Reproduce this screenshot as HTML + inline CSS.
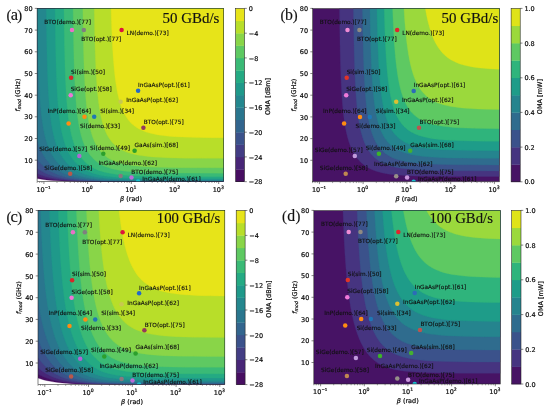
<!DOCTYPE html>
<html lang="en"><head><meta charset="utf-8"><title>OMA contour maps</title>
<style>html,body{margin:0;padding:0;background:#fff}svg{display:block}text{fill:#111;stroke:#111;stroke-width:.22px}text.s{stroke-width:.15px}text.a{stroke-width:.13px}</style></head>
<body>
<svg width="550" height="410" viewBox="0 0 550 410" font-family='"DejaVu Sans","Liberation Sans",sans-serif'>
<rect width="550" height="410" fill="#fff"/>
<clipPath id="c0"><rect x="37.1" y="8.4" width="186.60" height="173.30"/></clipPath>
<g clip-path="url(#c0)" shape-rendering="geometricPrecision">
<path d="M92.76 181.70L223.70 181.70L223.70 8.40L37.10 8.40L37.10 178.57L41.60 179.28L46.62 179.89L52.32 180.41L58.86 180.85L65.42 181.15L73.00 181.40L82.34 181.58L92.76 181.70Z" fill="#470e61" stroke="#470e61" stroke-width="0.3" fill-rule="evenodd"/>
<path d="M108.47 181.70L223.70 181.70L223.70 8.40L37.10 8.40L37.10 176.60L39.55 177.25L42.35 177.89L45.37 178.48L48.64 179.02L52.20 179.52L55.43 179.89L58.93 180.23L62.74 180.53L66.94 180.80L71.58 181.03L81.38 181.36L93.57 181.58L108.47 181.70Z" fill="#482677" stroke="#482677" stroke-width="0.3" fill-rule="evenodd"/>
<path d="M187.93 181.70L223.70 181.70L223.70 8.40L37.10 8.40L37.10 173.42L38.81 174.17L40.60 174.88L42.48 175.55L44.46 176.19L46.56 176.79L48.78 177.36L53.13 178.29L58.04 179.11L63.65 179.82L69.42 180.35L76.21 180.80L82.26 181.07L89.57 181.30L97.31 181.45L107.38 181.56L133.95 181.67L187.93 181.70Z" fill="#433d84" stroke="#433d84" stroke-width="0.3" fill-rule="evenodd"/>
<path d="M161.30 181.56L223.70 181.57L223.70 8.40L37.10 8.40L37.10 168.20L38.73 169.39L40.37 170.47L42.11 171.51L43.94 172.50L45.88 173.43L47.58 174.17L49.75 175.02L51.65 175.68L54.08 176.43L56.24 177.02L58.53 177.57L60.97 178.09L63.59 178.58L66.40 179.02L72.08 179.74L78.03 180.29L84.28 180.70L91.32 181.00L99.65 181.23L109.27 181.38L121.24 181.48L161.30 181.56Z" fill="#3b528b" stroke="#3b528b" stroke-width="0.3" fill-rule="evenodd"/>
<path d="M169.46 181.36L223.70 181.37L223.70 8.40L37.10 8.40L37.10 159.04L38.08 160.39L39.62 162.29L41.06 163.88L42.81 165.62L44.45 167.07L46.45 168.64L48.31 169.94L50.30 171.17L52.42 172.33L54.68 173.43L56.75 174.32L59.33 175.29L61.71 176.06L64.26 176.79L67.02 177.47L70.00 178.09L73.27 178.67L76.27 179.11L78.98 179.45L82.48 179.82L85.72 180.10L93.19 180.56L101.86 180.90L112.25 181.11L125.35 181.25L143.30 181.33L169.46 181.36Z" fill="#32658e" stroke="#32658e" stroke-width="0.3" fill-rule="evenodd"/>
<path d="M162.57 181.03L223.70 181.06L223.70 8.40L37.10 8.40L37.10 139.52L37.91 142.28L38.89 145.20L39.95 148.01L40.98 150.42L42.23 153.02L43.44 155.24L44.73 157.36L46.12 159.40L47.61 161.35L49.00 162.98L50.48 164.54L52.06 166.04L53.73 167.47L55.51 168.83L57.41 170.12L59.43 171.34L61.59 172.50L63.57 173.43L66.04 174.46L68.32 175.29L70.76 176.06L73.41 176.79L76.29 177.47L78.92 177.99L81.60 178.45L84.32 178.85L87.21 179.21L90.57 179.55L97.68 180.08L105.53 180.45L114.51 180.70L126.47 180.87L141.81 180.98L162.57 181.03Z" fill="#2a768e" stroke="#2a768e" stroke-width="0.3" fill-rule="evenodd"/>
<path d="M172.66 180.53L223.70 180.55L223.70 8.40L37.53 8.40L37.77 29.26L38.08 47.57L38.45 63.56L38.89 76.92L39.43 88.98L40.05 99.34L40.80 108.64L41.67 116.96L42.15 120.72L42.69 124.37L43.28 127.91L43.92 131.34L44.63 134.65L45.33 137.50L46.08 140.26L46.89 142.94L47.77 145.52L48.73 148.01L49.76 150.42L50.87 152.74L52.07 154.96L53.19 156.84L54.56 158.90L55.85 160.63L57.22 162.29L58.67 163.88L60.22 165.41L61.87 166.86L63.63 168.25L65.23 169.39L67.22 170.65L69.04 171.68L70.97 172.66L73.04 173.58L75.27 174.46L77.67 175.29L80.29 176.06L82.68 176.67L85.29 177.25L88.19 177.79L90.78 178.19L93.68 178.58L99.86 179.19L106.65 179.65L114.51 179.98L124.23 180.22L135.82 180.38L150.78 180.48L172.66 180.53Z" fill="#24878e" stroke="#24878e" stroke-width="0.3" fill-rule="evenodd"/>
<path d="M195.62 179.74L223.70 179.75L223.70 8.40L46.30 8.40L46.55 29.91L46.87 48.79L47.26 64.71L47.72 78.54L48.28 90.50L48.96 101.24L49.74 110.43L50.20 114.82L50.66 118.64L51.23 122.76L51.79 126.35L52.42 129.83L53.10 133.19L53.86 136.44L54.59 139.24L55.49 142.28L56.36 144.88L57.30 147.40L58.32 149.83L59.42 152.17L60.61 154.41L61.89 156.58L63.09 158.39L64.57 160.39L65.95 162.06L67.42 163.66L68.99 165.19L70.68 166.66L72.21 167.86L74.12 169.20L75.89 170.30L77.78 171.34L79.73 172.30L81.97 173.27L83.99 174.03L86.14 174.74L88.49 175.42L90.95 176.03L93.41 176.55L96.18 177.05L99.18 177.50L102.17 177.87L105.16 178.18L111.45 178.67L118.99 179.05L128.34 179.34L138.81 179.52L152.65 179.64L195.62 179.74Z" fill="#1f998a" stroke="#1f998a" stroke-width="0.3" fill-rule="evenodd"/>
<path d="M213.89 178.48L223.70 178.48L223.70 8.40L55.10 8.40L55.35 29.91L55.68 48.79L56.07 64.71L56.54 78.54L57.10 90.50L57.79 101.24L58.20 106.37L58.62 110.88L59.09 115.25L59.56 119.06L60.13 123.17L60.71 126.74L61.35 130.21L62.05 133.56L62.82 136.80L63.58 139.58L64.50 142.61L65.39 145.20L66.37 147.71L67.42 150.12L68.56 152.45L69.79 154.69L71.12 156.84L72.38 158.65L73.92 160.63L75.38 162.29L76.95 163.88L78.39 165.19L79.93 166.46L81.60 167.68L83.36 168.83L85.28 169.94L87.21 170.92L89.28 171.84L91.36 172.66L93.57 173.40L95.69 174.03L98.05 174.63L100.44 175.15L103.30 175.68L106.28 176.14L109.27 176.52L115.63 177.13L122.36 177.56L130.24 177.89L140.31 178.14L151.53 178.30L166.11 178.40L213.89 178.48Z" fill="#24aa83" stroke="#24aa83" stroke-width="0.3" fill-rule="evenodd"/>
<path d="M192.18 176.43L223.70 176.46L223.70 8.40L64.00 8.40L64.24 28.61L64.54 46.34L64.90 61.83L65.33 75.30L65.84 86.93L66.46 97.41L67.20 106.82L68.01 114.82L68.49 118.64L69.01 122.36L69.60 125.96L70.16 129.07L70.78 132.08L71.46 135.01L72.20 137.85L73.00 140.60L73.88 143.26L74.71 145.52L75.62 147.73L76.72 150.12L77.77 152.17L78.90 154.14L80.13 156.04L81.45 157.88L82.67 159.40L83.98 160.87L85.38 162.29L86.90 163.66L88.33 164.81L90.03 166.04L91.63 167.07L93.37 168.06L95.06 168.91L96.94 169.76L99.18 170.63L101.29 171.34L103.58 172.01L105.91 172.59L108.38 173.12L110.87 173.58L116.00 174.33L118.99 174.66L122.36 174.98L129.09 175.44L137.32 175.82L146.67 176.07L158.26 176.26L172.84 176.37L192.18 176.43Z" fill="#3aba76" stroke="#3aba76" stroke-width="0.3" fill-rule="evenodd"/>
<path d="M183.89 173.12L223.70 173.20L223.70 8.40L73.13 8.40L73.37 27.96L73.67 45.11L74.01 59.51L74.42 72.56L74.90 83.83L75.47 93.99L76.11 102.66L76.89 110.88L77.80 118.22L78.29 121.54L78.82 124.77L79.36 127.64L79.97 130.59L80.67 133.56L81.34 136.09L82.06 138.55L82.85 140.94L83.70 143.26L84.63 145.52L85.64 147.71L86.57 149.53L87.58 151.30L88.70 153.08L89.83 154.67L90.95 156.11L92.26 157.62L93.57 158.97L95.06 160.35L96.56 161.58L98.05 162.67L99.55 163.64L101.09 164.54L102.91 165.49L104.78 166.34L106.65 167.09L108.89 167.86L110.81 168.45L113.01 169.03L115.38 169.57L117.87 170.06L120.30 170.47L125.73 171.20L132.08 171.80L139.19 172.25L147.41 172.60L157.14 172.85L168.73 173.02L183.89 173.12Z" fill="#5ec962" stroke="#5ec962" stroke-width="0.3" fill-rule="evenodd"/>
<path d="M180.33 167.67L197.90 167.77L223.70 167.83L223.70 8.40L82.88 8.40L83.11 25.99L83.40 42.01L83.74 55.99L84.13 68.10L84.60 79.07L85.15 88.98L85.75 97.41L86.48 105.45L87.33 112.64L88.28 119.06L88.86 122.36L89.42 125.17L90.04 127.91L90.61 130.21L91.32 132.80L92.00 135.01L92.73 137.15L93.57 139.34L94.39 141.28L95.32 143.26L96.18 144.91L97.27 146.78L98.26 148.32L99.35 149.83L100.52 151.30L101.79 152.73L102.92 153.86L104.41 155.21L105.78 156.31L107.03 157.22L108.52 158.20L110.16 159.15L111.89 160.04L113.72 160.87L115.50 161.59L117.49 162.29L119.74 162.98L121.61 163.49L123.86 164.02L126.10 164.48L130.96 165.29L136.57 165.97L142.93 166.52L150.03 166.94L158.31 167.27L167.98 167.50L180.33 167.67Z" fill="#89d548" stroke="#89d548" stroke-width="0.3" fill-rule="evenodd"/>
<path d="M185.97 158.14L201.64 158.28L223.70 158.35L223.70 8.40L94.27 8.40L94.54 24.67L94.85 38.88L95.23 51.81L95.64 62.99L96.13 73.11L96.69 82.26L97.33 90.50L98.06 97.90L98.87 104.52L99.85 110.88L100.94 116.53L101.52 119.06L102.14 121.54L102.82 123.97L103.44 125.96L104.25 128.30L104.99 130.21L105.78 132.08L106.65 133.93L107.60 135.73L108.52 137.32L109.65 139.05L110.77 140.60L111.89 141.99L113.01 143.23L114.13 144.37L115.40 145.52L116.75 146.62L118.23 147.71L119.74 148.69L121.24 149.56L122.90 150.42L124.60 151.21L126.23 151.88L127.97 152.52L129.84 153.13L132.08 153.77L136.20 154.74L138.81 155.24L141.06 155.61L146.33 156.31L152.28 156.88L159.01 157.34L166.49 157.69L175.46 157.95L185.97 158.14Z" fill="#b8de29" stroke="#b8de29" stroke-width="0.3" fill-rule="evenodd"/>
<path d="M199.70 137.50L210.61 137.64L223.70 137.73L223.70 8.40L111.09 8.40L111.47 21.35L111.89 32.78L112.37 43.26L112.93 53.01L113.52 61.26L114.21 69.23L114.98 76.38L115.82 82.78L116.75 88.63L117.87 94.38L118.99 99.11L120.28 103.59L121.61 107.45L122.36 109.34L123.22 111.32L124.07 113.08L124.98 114.78L125.75 116.10L126.85 117.83L127.97 119.40L129.02 120.72L130.09 121.95L131.25 123.17L132.46 124.30L133.58 125.27L134.98 126.35L136.20 127.21L137.69 128.16L139.19 129.01L140.79 129.83L142.44 130.59L144.29 131.34L145.92 131.93L147.79 132.53L149.66 133.07L151.56 133.56L153.77 134.06L158.26 134.89L163.12 135.58L168.73 136.17L175.09 136.65L182.19 137.02L190.04 137.29L199.70 137.50Z" fill="#e7e419" stroke="#e7e419" stroke-width="0.3" fill-rule="evenodd"/>
<circle cx="72.0" cy="30.1" r="2.25" fill="#ea70c8"/>
<circle cx="83.8" cy="30.1" r="2.25" fill="#7f7f7f"/>
<circle cx="121.6" cy="30.1" r="2.25" fill="#dc143c"/>
<circle cx="71.1" cy="77.8" r="2.25" fill="#d62728"/>
<circle cx="70.7" cy="95.2" r="2.25" fill="#ee76d8"/>
<circle cx="138.1" cy="90.8" r="2.25" fill="#2369c8"/>
<circle cx="120.6" cy="101.7" r="2.25" fill="#c8c850"/>
<circle cx="84.5" cy="116.8" r="2.25" fill="#ff8c12"/>
<circle cx="94.2" cy="116.8" r="2.25" fill="#1f77b4"/>
<circle cx="68.6" cy="123.4" r="2.25" fill="#ff8c12"/>
<circle cx="143.4" cy="127.7" r="2.25" fill="#943a5c"/>
<circle cx="134.6" cy="150.7" r="2.25" fill="#2ca02c"/>
<circle cx="103.3" cy="153.7" r="2.25" fill="#2ca02c"/>
<circle cx="79.3" cy="155.9" r="2.25" fill="#b066d6"/>
<circle cx="120.6" cy="176.1" r="2.25" fill="#8a767e"/>
<circle cx="70.2" cy="173.7" r="2.25" fill="#b8584a"/>
<circle cx="131.5" cy="177.5" r="2.25" fill="#bb6ad8"/>
<circle cx="138.1" cy="181.6" r="2.25" fill="#17becf"/>
</g>
<text x="91.0" y="24.3" font-size="5.8" text-anchor="end" class="a">BTO(demo.)[77]</text>
<text x="81.3" y="41.3" font-size="5.8" text-anchor="start" class="a">BTO(opt.)[77]</text>
<text x="126.6" y="35.1" font-size="5.8" text-anchor="start" class="a">LN(demo.)[73]</text>
<text x="71.1" y="74.0" font-size="5.8" text-anchor="start" class="a">Si(sim.)[50]</text>
<text x="70.7" y="91.2" font-size="5.8" text-anchor="start" class="a">SiGe(opt.)[58]</text>
<text x="138.1" y="87.0" font-size="5.8" text-anchor="start" class="a">InGaAsP(opt.)[61]</text>
<text x="126.3" y="102.0" font-size="5.8" text-anchor="start" class="a">InGaAsP(opt.)[62]</text>
<text x="91.1" y="112.6" font-size="5.8" text-anchor="end" class="a">InP(demo.)[64]</text>
<text x="100.2" y="112.6" font-size="5.8" text-anchor="start" class="a">Si(sim.)[34]</text>
<text x="80.1" y="127.8" font-size="5.8" text-anchor="start" class="a">Si(demo.)[33]</text>
<text x="143.8" y="123.9" font-size="5.8" text-anchor="start" class="a">BTO(opt.)[75]</text>
<text x="134.6" y="146.5" font-size="5.8" text-anchor="start" class="a">GaAs(sim.)[68]</text>
<text x="90.1" y="149.5" font-size="5.8" text-anchor="start" class="a">Si(demo.)[49]</text>
<text x="87.2" y="151.4" font-size="5.8" text-anchor="end" class="a">SiGe(demo.)[57]</text>
<text x="156.9" y="165.4" font-size="5.8" text-anchor="end" class="a">InGaAsP(demo.)[62]</text>
<text x="92.3" y="169.5" font-size="5.8" text-anchor="end" class="a">SiGe(demo.)[58]</text>
<text x="131.3" y="174.2" font-size="5.8" text-anchor="start" class="a">BTO(demo.)[75]</text>
<text x="142.3" y="181.0" font-size="5.8" text-anchor="start" class="a">InGaAsP(demo.)[61]</text>
<rect x="37.1" y="8.4" width="186.60" height="173.30" fill="none" stroke="#222" stroke-width="0.55"/>
<line x1="34.8" x2="37.1" y1="160.2" y2="160.2" stroke="#222" stroke-width="0.55"/>
<text x="32.6" y="162.8" font-size="6.5" text-anchor="end">10</text>
<line x1="34.8" x2="37.1" y1="138.5" y2="138.5" stroke="#222" stroke-width="0.55"/>
<text x="32.6" y="141.1" font-size="6.5" text-anchor="end">20</text>
<line x1="34.8" x2="37.1" y1="116.8" y2="116.8" stroke="#222" stroke-width="0.55"/>
<text x="32.6" y="119.4" font-size="6.5" text-anchor="end">30</text>
<line x1="34.8" x2="37.1" y1="95.2" y2="95.2" stroke="#222" stroke-width="0.55"/>
<text x="32.6" y="97.8" font-size="6.5" text-anchor="end">40</text>
<line x1="34.8" x2="37.1" y1="73.5" y2="73.5" stroke="#222" stroke-width="0.55"/>
<text x="32.6" y="76.1" font-size="6.5" text-anchor="end">50</text>
<line x1="34.8" x2="37.1" y1="51.8" y2="51.8" stroke="#222" stroke-width="0.55"/>
<text x="32.6" y="54.4" font-size="6.5" text-anchor="end">60</text>
<line x1="34.8" x2="37.1" y1="30.1" y2="30.1" stroke="#222" stroke-width="0.55"/>
<text x="32.6" y="32.7" font-size="6.5" text-anchor="end">70</text>
<line x1="34.8" x2="37.1" y1="8.4" y2="8.4" stroke="#222" stroke-width="0.55"/>
<text x="32.6" y="11.0" font-size="6.5" text-anchor="end">80</text>
<line x1="43.9" x2="43.9" y1="181.7" y2="184.0" stroke="#222" stroke-width="0.55"/>
<text x="43.5" y="191.6" font-size="6.5" text-anchor="middle">10<tspan dy="-2.6" font-size="4.0">−1</tspan></text>
<line x1="87.6" x2="87.6" y1="181.7" y2="184.0" stroke="#222" stroke-width="0.55"/>
<text x="87.2" y="191.6" font-size="6.5" text-anchor="middle">10<tspan dy="-2.6" font-size="4.6">0</tspan></text>
<line x1="131.3" x2="131.3" y1="181.7" y2="184.0" stroke="#222" stroke-width="0.55"/>
<text x="130.9" y="191.6" font-size="6.5" text-anchor="middle">10<tspan dy="-2.6" font-size="4.6">1</tspan></text>
<line x1="175.0" x2="175.0" y1="181.7" y2="184.0" stroke="#222" stroke-width="0.55"/>
<text x="174.6" y="191.6" font-size="6.5" text-anchor="middle">10<tspan dy="-2.6" font-size="4.6">2</tspan></text>
<line x1="218.7" x2="218.7" y1="181.7" y2="184.0" stroke="#222" stroke-width="0.55"/>
<text x="218.3" y="191.6" font-size="6.5" text-anchor="middle">10<tspan dy="-2.6" font-size="4.6">3</tspan></text>
<line x1="37.1" x2="37.1" y1="181.7" y2="183.0" stroke="#222" stroke-width="0.4"/>
<line x1="39.6" x2="39.6" y1="181.7" y2="183.0" stroke="#222" stroke-width="0.4"/>
<line x1="41.9" x2="41.9" y1="181.7" y2="183.0" stroke="#222" stroke-width="0.4"/>
<line x1="57.0" x2="57.0" y1="181.7" y2="183.0" stroke="#222" stroke-width="0.4"/>
<line x1="64.7" x2="64.7" y1="181.7" y2="183.0" stroke="#222" stroke-width="0.4"/>
<line x1="70.2" x2="70.2" y1="181.7" y2="183.0" stroke="#222" stroke-width="0.4"/>
<line x1="74.4" x2="74.4" y1="181.7" y2="183.0" stroke="#222" stroke-width="0.4"/>
<line x1="77.9" x2="77.9" y1="181.7" y2="183.0" stroke="#222" stroke-width="0.4"/>
<line x1="80.8" x2="80.8" y1="181.7" y2="183.0" stroke="#222" stroke-width="0.4"/>
<line x1="83.3" x2="83.3" y1="181.7" y2="183.0" stroke="#222" stroke-width="0.4"/>
<line x1="85.6" x2="85.6" y1="181.7" y2="183.0" stroke="#222" stroke-width="0.4"/>
<line x1="100.7" x2="100.7" y1="181.7" y2="183.0" stroke="#222" stroke-width="0.4"/>
<line x1="108.4" x2="108.4" y1="181.7" y2="183.0" stroke="#222" stroke-width="0.4"/>
<line x1="113.9" x2="113.9" y1="181.7" y2="183.0" stroke="#222" stroke-width="0.4"/>
<line x1="118.1" x2="118.1" y1="181.7" y2="183.0" stroke="#222" stroke-width="0.4"/>
<line x1="121.6" x2="121.6" y1="181.7" y2="183.0" stroke="#222" stroke-width="0.4"/>
<line x1="124.5" x2="124.5" y1="181.7" y2="183.0" stroke="#222" stroke-width="0.4"/>
<line x1="127.1" x2="127.1" y1="181.7" y2="183.0" stroke="#222" stroke-width="0.4"/>
<line x1="129.3" x2="129.3" y1="181.7" y2="183.0" stroke="#222" stroke-width="0.4"/>
<line x1="144.5" x2="144.5" y1="181.7" y2="183.0" stroke="#222" stroke-width="0.4"/>
<line x1="152.2" x2="152.2" y1="181.7" y2="183.0" stroke="#222" stroke-width="0.4"/>
<line x1="157.6" x2="157.6" y1="181.7" y2="183.0" stroke="#222" stroke-width="0.4"/>
<line x1="161.8" x2="161.8" y1="181.7" y2="183.0" stroke="#222" stroke-width="0.4"/>
<line x1="165.3" x2="165.3" y1="181.7" y2="183.0" stroke="#222" stroke-width="0.4"/>
<line x1="168.2" x2="168.2" y1="181.7" y2="183.0" stroke="#222" stroke-width="0.4"/>
<line x1="170.8" x2="170.8" y1="181.7" y2="183.0" stroke="#222" stroke-width="0.4"/>
<line x1="173.0" x2="173.0" y1="181.7" y2="183.0" stroke="#222" stroke-width="0.4"/>
<line x1="188.2" x2="188.2" y1="181.7" y2="183.0" stroke="#222" stroke-width="0.4"/>
<line x1="195.9" x2="195.9" y1="181.7" y2="183.0" stroke="#222" stroke-width="0.4"/>
<line x1="201.3" x2="201.3" y1="181.7" y2="183.0" stroke="#222" stroke-width="0.4"/>
<line x1="205.6" x2="205.6" y1="181.7" y2="183.0" stroke="#222" stroke-width="0.4"/>
<line x1="209.0" x2="209.0" y1="181.7" y2="183.0" stroke="#222" stroke-width="0.4"/>
<line x1="211.9" x2="211.9" y1="181.7" y2="183.0" stroke="#222" stroke-width="0.4"/>
<line x1="214.5" x2="214.5" y1="181.7" y2="183.0" stroke="#222" stroke-width="0.4"/>
<line x1="216.7" x2="216.7" y1="181.7" y2="183.0" stroke="#222" stroke-width="0.4"/>
<text x="131.0" y="200.6" font-size="6.5" text-anchor="middle"><tspan font-style="italic">β</tspan> (rad)</text>
<text transform="translate(20.1,95.0) rotate(-90)" font-size="6.5" text-anchor="middle"><tspan font-style="italic">f</tspan><tspan font-style="italic" font-size="4.6" dy="1.3">mod</tspan><tspan dy="-1.3"> (GHz)</tspan></text>
<rect x="235.6" y="169.32" width="8.90" height="12.68" fill="#470e61"/>
<rect x="235.6" y="156.94" width="8.90" height="12.68" fill="#482677"/>
<rect x="235.6" y="144.56" width="8.90" height="12.68" fill="#433d84"/>
<rect x="235.6" y="132.19" width="8.90" height="12.68" fill="#3b528b"/>
<rect x="235.6" y="119.81" width="8.90" height="12.68" fill="#32658e"/>
<rect x="235.6" y="107.43" width="8.90" height="12.68" fill="#2a768e"/>
<rect x="235.6" y="95.05" width="8.90" height="12.68" fill="#24878e"/>
<rect x="235.6" y="82.67" width="8.90" height="12.68" fill="#1f998a"/>
<rect x="235.6" y="70.29" width="8.90" height="12.68" fill="#24aa83"/>
<rect x="235.6" y="57.91" width="8.90" height="12.68" fill="#3aba76"/>
<rect x="235.6" y="45.54" width="8.90" height="12.68" fill="#5ec962"/>
<rect x="235.6" y="33.16" width="8.90" height="12.68" fill="#89d548"/>
<rect x="235.6" y="20.78" width="8.90" height="12.68" fill="#b8de29"/>
<rect x="235.6" y="8.40" width="8.90" height="12.68" fill="#e7e419"/>
<rect x="235.6" y="8.4" width="8.90" height="173.30" fill="none" stroke="#222" stroke-width="0.55"/>
<line x1="244.5" x2="246.8" y1="181.7" y2="181.7" stroke="#222" stroke-width="0.55"/>
<text x="248.7" y="184.3" font-size="6.5">−28</text>
<line x1="244.5" x2="246.8" y1="156.9" y2="156.9" stroke="#222" stroke-width="0.55"/>
<text x="248.7" y="159.5" font-size="6.5">−24</text>
<line x1="244.5" x2="246.8" y1="132.2" y2="132.2" stroke="#222" stroke-width="0.55"/>
<text x="248.7" y="134.8" font-size="6.5">−20</text>
<line x1="244.5" x2="246.8" y1="107.4" y2="107.4" stroke="#222" stroke-width="0.55"/>
<text x="248.7" y="110.0" font-size="6.5">−16</text>
<line x1="244.5" x2="246.8" y1="82.7" y2="82.7" stroke="#222" stroke-width="0.55"/>
<text x="248.7" y="85.3" font-size="6.5">−12</text>
<line x1="244.5" x2="246.8" y1="57.9" y2="57.9" stroke="#222" stroke-width="0.55"/>
<text x="248.7" y="60.5" font-size="6.5">−8</text>
<line x1="244.5" x2="246.8" y1="33.2" y2="33.2" stroke="#222" stroke-width="0.55"/>
<text x="248.7" y="35.8" font-size="6.5">−4</text>
<line x1="244.5" x2="246.8" y1="8.4" y2="8.4" stroke="#222" stroke-width="0.55"/>
<text x="248.7" y="11.0" font-size="6.5">0</text>
<text transform="translate(269.9,96.5) rotate(-90)" font-size="6.5" text-anchor="middle">OMA [dBm]</text>
<text x="6.5" y="19.9" font-size="14.7" letter-spacing="-0.7" font-family='"Liberation Serif","DejaVu Serif",serif' class="s">(<tspan font-size="16.5">a</tspan>)</text>
<text x="162.6" y="22.5" font-size="14.5" textLength="56.8" lengthAdjust="spacingAndGlyphs" font-family='"Liberation Serif","DejaVu Serif",serif' class="s">50 GBd/s</text>
<clipPath id="c1"><rect x="312.6" y="8.4" width="186.80" height="173.40"/></clipPath>
<g clip-path="url(#c1)" shape-rendering="geometricPrecision">
<path d="M312.60 181.80L499.40 181.80L499.40 8.40L312.60 8.40L312.60 181.80Z" fill="#471365" stroke="#471365" stroke-width="0.3" fill-rule="evenodd"/>
<path d="M467.85 176.53L499.40 176.56L499.40 8.40L339.53 8.40L339.78 29.28L340.08 46.98L340.44 62.44L340.86 75.34L341.37 86.98L341.99 97.47L342.73 106.88L343.55 114.88L344.02 118.71L344.55 122.42L345.06 125.63L345.70 129.14L346.40 132.53L347.09 135.45L347.83 138.28L348.65 141.02L349.53 143.67L350.38 145.92L351.42 148.40L352.41 150.50L353.47 152.53L354.62 154.50L355.86 156.40L357.00 157.97L358.22 159.49L359.53 160.96L360.94 162.38L362.46 163.75L364.10 165.07L365.59 166.13L367.25 167.20L369.13 168.25L371.00 169.18L372.87 170.00L374.80 170.74L376.99 171.48L379.15 172.10L381.48 172.69L384.10 173.25L386.72 173.72L389.34 174.13L392.34 174.51L398.33 175.10L405.06 175.56L413.30 175.92L422.66 176.18L434.26 176.36L448.49 176.47L467.85 176.53Z" fill="#463480" stroke="#463480" stroke-width="0.3" fill-rule="evenodd"/>
<path d="M489.75 170.92L499.40 170.93L499.40 8.40L353.48 8.40L353.73 27.97L354.05 45.75L354.43 60.71L354.89 74.24L355.44 85.95L356.07 96.00L356.81 105.04L357.69 113.14L358.20 117.02L358.77 120.79L359.33 124.04L359.94 127.20L360.62 130.28L361.36 133.26L362.08 135.80L362.86 138.28L363.70 140.68L364.63 143.01L365.65 145.28L366.59 147.17L367.62 149.01L368.75 150.82L369.95 152.53L371.28 154.22L372.49 155.59L373.80 156.92L375.23 158.22L376.80 159.49L378.49 160.68L380.06 161.67L381.74 162.61L383.60 163.52L385.60 164.38L387.47 165.09L389.72 165.82L391.96 166.46L394.21 167.01L396.81 167.56L399.45 168.03L402.07 168.43L407.68 169.11L414.42 169.68L421.91 170.10L430.52 170.41L440.63 170.63L452.98 170.78L468.33 170.87L489.75 170.92Z" fill="#3b528b" stroke="#3b528b" stroke-width="0.3" fill-rule="evenodd"/>
<path d="M470.91 164.85L499.40 164.93L499.40 8.40L362.53 8.40L362.79 26.66L363.09 42.03L363.45 56.02L363.88 68.14L364.38 79.11L364.94 88.52L365.59 96.98L366.38 105.04L367.29 112.26L367.82 115.74L368.33 118.71L368.89 121.61L369.50 124.44L370.17 127.20L370.80 129.52L371.60 132.16L372.35 134.36L373.16 136.52L373.99 138.48L374.86 140.34L375.86 142.26L376.88 143.99L377.93 145.60L378.86 146.90L380.06 148.40L381.41 149.91L382.60 151.11L383.87 152.25L385.28 153.38L386.84 154.50L388.56 155.59L390.09 156.45L391.96 157.38L393.83 158.20L395.71 158.91L397.58 159.55L399.82 160.22L402.07 160.79L404.32 161.29L406.56 161.73L409.18 162.17L411.80 162.55L414.80 162.92L420.79 163.49L427.90 163.96L436.14 164.31L445.49 164.56L456.72 164.74L470.91 164.85Z" fill="#2f6c8e" stroke="#2f6c8e" stroke-width="0.3" fill-rule="evenodd"/>
<path d="M476.36 158.22L499.40 158.30L499.40 8.40L369.96 8.40L370.25 25.34L370.58 40.16L370.97 53.04L371.42 64.74L371.96 75.34L372.55 84.39L373.24 92.77L374.05 100.35L374.92 106.88L375.43 110.04L375.98 113.14L376.58 116.17L377.15 118.71L377.77 121.20L378.49 123.75L379.19 126.03L380.01 128.37L380.90 130.66L381.72 132.53L382.61 134.36L383.58 136.16L384.47 137.65L385.60 139.34L386.72 140.85L387.84 142.20L389.20 143.67L390.46 144.88L391.65 145.92L393.08 147.03L394.58 148.07L396.09 149.01L397.71 149.91L399.45 150.76L401.32 151.57L403.19 152.28L405.06 152.92L407.31 153.58L409.56 154.16L411.80 154.66L414.05 155.10L416.67 155.54L421.91 156.24L427.90 156.83L435.01 157.31L442.87 157.66L451.86 157.92L462.71 158.10L476.36 158.22Z" fill="#25848e" stroke="#25848e" stroke-width="0.3" fill-rule="evenodd"/>
<path d="M474.18 150.50L499.40 150.64L499.40 8.40L376.96 8.40L377.26 23.35L377.63 37.00L378.06 49.42L378.53 60.13L379.08 69.82L379.71 78.58L380.43 86.47L381.23 93.54L382.20 100.35L383.19 105.96L383.75 108.70L384.37 111.38L385.60 115.95L386.33 118.29L387.06 120.37L387.84 122.41L388.59 124.17L389.47 126.03L390.46 127.93L391.39 129.52L392.37 131.03L393.46 132.56L394.58 133.97L395.71 135.24L396.96 136.52L398.11 137.58L399.45 138.69L400.95 139.80L402.44 140.79L403.96 141.69L405.81 142.66L407.31 143.36L409.18 144.14L411.05 144.82L412.93 145.43L414.80 145.97L417.04 146.54L419.29 147.03L421.54 147.47L426.40 148.23L432.02 148.88L438.38 149.41L445.49 149.82L453.36 150.12L462.71 150.34L474.18 150.50Z" fill="#1e9c89" stroke="#1e9c89" stroke-width="0.3" fill-rule="evenodd"/>
<path d="M473.09 141.02L484.80 141.16L499.40 141.25L499.40 8.40L384.24 8.40L384.60 22.02L385.00 33.80L385.45 44.52L385.97 54.35L386.59 63.59L387.24 71.49L387.96 78.58L388.81 85.43L389.75 91.55L390.84 97.35L391.97 102.24L392.59 104.58L393.26 106.88L393.85 108.70L394.64 110.94L395.33 112.70L396.27 114.88L397.09 116.59L397.95 118.22L398.97 119.96L399.82 121.29L400.91 122.83L401.85 124.04L402.88 125.24L403.98 126.42L405.20 127.59L406.53 128.75L407.68 129.66L409.18 130.73L410.68 131.68L412.16 132.53L413.67 133.30L415.18 134.00L417.04 134.77L418.91 135.45L420.79 136.05L422.66 136.59L426.78 137.58L431.27 138.41L436.51 139.14L442.12 139.72L448.49 140.18L455.60 140.54L463.46 140.81L473.09 141.02Z" fill="#2fb47c" stroke="#2fb47c" stroke-width="0.3" fill-rule="evenodd"/>
<path d="M474.57 128.37L485.55 128.57L499.40 128.71L499.40 8.40L392.66 8.40L393.07 19.34L393.52 29.28L394.06 38.90L394.65 47.59L395.33 55.81L396.06 63.02L396.83 69.32L397.71 75.34L398.70 80.99L399.82 86.28L400.95 90.70L402.26 95.02L403.57 98.66L404.32 100.48L405.10 102.24L406.03 104.11L406.94 105.78L407.87 107.34L408.76 108.70L409.72 110.04L410.76 111.38L411.80 112.59L412.93 113.78L414.05 114.86L415.17 115.85L416.63 117.02L417.79 117.86L419.08 118.71L420.48 119.54L421.91 120.32L423.41 121.05L424.90 121.72L426.78 122.46L428.65 123.11L430.31 123.64L432.39 124.22L434.26 124.68L438.38 125.54L442.87 126.26L447.74 126.86L453.36 127.38L459.34 127.78L466.46 128.11L474.57 128.37Z" fill="#5ec962" stroke="#5ec962" stroke-width="0.3" fill-rule="evenodd"/>
<path d="M484.73 109.15L499.40 109.43L499.40 8.40L403.96 8.40L404.47 16.64L405.06 24.74L405.74 32.52L406.47 39.53L407.31 46.37L408.10 51.84L409.00 57.20L410.04 62.44L411.10 67.01L412.33 71.49L413.67 75.65L415.17 79.57L416.67 82.88L418.29 85.95L420.04 88.75L420.95 90.04L421.91 91.30L423.85 93.54L424.90 94.62L426.03 95.68L427.15 96.65L428.27 97.54L429.50 98.43L430.96 99.39L433.51 100.86L435.01 101.61L436.51 102.29L438.01 102.91L439.88 103.61L443.25 104.67L446.99 105.62L450.98 106.42L455.23 107.10L460.09 107.70L465.33 108.19L470.95 108.57L477.31 108.89L484.73 109.15Z" fill="#9bd93c" stroke="#9bd93c" stroke-width="0.3" fill-rule="evenodd"/>
<path d="M499.04 69.26L499.40 69.28L499.40 8.40L425.35 8.40L426.21 13.23L427.15 17.88L428.10 22.02L429.02 25.62L430.08 29.28L431.13 32.52L432.30 35.72L433.51 38.69L434.77 41.41L436.14 44.02L437.63 46.55L439.13 48.79L440.63 50.77L442.50 52.94L444.37 54.83L446.24 56.48L448.11 57.93L450.36 59.44L452.61 60.75L454.85 61.87L457.47 63.01L460.09 63.97L462.71 64.79L465.71 65.59L469.08 66.33L472.45 66.95L476.19 67.51L479.93 67.96L484.05 68.37L488.54 68.71L493.41 69.01L499.04 69.26Z" fill="#dfe318" stroke="#dfe318" stroke-width="0.3" fill-rule="evenodd"/>
<circle cx="347.5" cy="30.1" r="2.25" fill="#f08cd6"/>
<circle cx="359.4" cy="30.1" r="2.25" fill="#908a82"/>
<circle cx="397.2" cy="30.1" r="2.25" fill="#e0242e"/>
<circle cx="346.7" cy="77.8" r="2.25" fill="#e03428"/>
<circle cx="346.2" cy="95.2" r="2.25" fill="#f07ada"/>
<circle cx="413.7" cy="90.9" r="2.25" fill="#2c6cb8"/>
<circle cx="396.2" cy="101.7" r="2.25" fill="#dcc032"/>
<circle cx="360.0" cy="116.9" r="2.25" fill="#ff8c12"/>
<circle cx="369.8" cy="116.9" r="2.25" fill="#1f77b4"/>
<circle cx="344.1" cy="123.4" r="2.25" fill="#ff8c12"/>
<circle cx="419.0" cy="127.8" r="2.25" fill="#bc5450"/>
<circle cx="410.2" cy="150.8" r="2.25" fill="#44b030"/>
<circle cx="378.9" cy="153.8" r="2.25" fill="#3cb428"/>
<circle cx="354.8" cy="156.0" r="2.25" fill="#c09adc"/>
<circle cx="396.2" cy="176.2" r="2.25" fill="#969088"/>
<circle cx="345.7" cy="173.8" r="2.25" fill="#c08850"/>
<circle cx="407.1" cy="177.6" r="2.25" fill="#c896dc"/>
<circle cx="413.7" cy="181.7" r="2.25" fill="#17becf"/>
</g>
<text x="366.5" y="24.3" font-size="5.8" text-anchor="end" class="a">BTO(demo.)[77]</text>
<text x="356.9" y="41.3" font-size="5.8" text-anchor="start" class="a">BTO(opt.)[77]</text>
<text x="402.2" y="35.1" font-size="5.8" text-anchor="start" class="a">LN(demo.)[73]</text>
<text x="346.7" y="74.0" font-size="5.8" text-anchor="start" class="a">Si(sim.)[50]</text>
<text x="346.2" y="91.2" font-size="5.8" text-anchor="start" class="a">SiGe(opt.)[58]</text>
<text x="413.7" y="87.1" font-size="5.8" text-anchor="start" class="a">InGaAsP(opt.)[61]</text>
<text x="401.9" y="102.0" font-size="5.8" text-anchor="start" class="a">InGaAsP(opt.)[62]</text>
<text x="366.6" y="112.7" font-size="5.8" text-anchor="end" class="a">InP(demo.)[64]</text>
<text x="375.8" y="112.7" font-size="5.8" text-anchor="start" class="a">Si(sim.)[34]</text>
<text x="355.6" y="127.8" font-size="5.8" text-anchor="start" class="a">Si(demo.)[33]</text>
<text x="419.4" y="124.0" font-size="5.8" text-anchor="start" class="a">BTO(opt.)[75]</text>
<text x="410.2" y="146.6" font-size="5.8" text-anchor="start" class="a">GaAs(sim.)[68]</text>
<text x="365.7" y="149.6" font-size="5.8" text-anchor="start" class="a">Si(demo.)[49]</text>
<text x="362.7" y="151.5" font-size="5.8" text-anchor="end" class="a">SiGe(demo.)[57]</text>
<text x="432.5" y="165.5" font-size="5.8" text-anchor="end" class="a">InGaAsP(demo.)[62]</text>
<text x="367.8" y="169.6" font-size="5.8" text-anchor="end" class="a">SiGe(demo.)[58]</text>
<text x="406.9" y="174.3" font-size="5.8" text-anchor="start" class="a">BTO(demo.)[75]</text>
<text x="417.9" y="181.1" font-size="5.8" text-anchor="start" class="a">InGaAsP(demo.)[61]</text>
<rect x="312.6" y="8.4" width="186.80" height="173.40" fill="none" stroke="#222" stroke-width="0.55"/>
<line x1="310.3" x2="312.6" y1="160.3" y2="160.3" stroke="#222" stroke-width="0.55"/>
<text x="308.1" y="162.9" font-size="6.5" text-anchor="end">10</text>
<line x1="310.3" x2="312.6" y1="138.6" y2="138.6" stroke="#222" stroke-width="0.55"/>
<text x="308.1" y="141.2" font-size="6.5" text-anchor="end">20</text>
<line x1="310.3" x2="312.6" y1="116.9" y2="116.9" stroke="#222" stroke-width="0.55"/>
<text x="308.1" y="119.5" font-size="6.5" text-anchor="end">30</text>
<line x1="310.3" x2="312.6" y1="95.2" y2="95.2" stroke="#222" stroke-width="0.55"/>
<text x="308.1" y="97.8" font-size="6.5" text-anchor="end">40</text>
<line x1="310.3" x2="312.6" y1="73.5" y2="73.5" stroke="#222" stroke-width="0.55"/>
<text x="308.1" y="76.1" font-size="6.5" text-anchor="end">50</text>
<line x1="310.3" x2="312.6" y1="51.8" y2="51.8" stroke="#222" stroke-width="0.55"/>
<text x="308.1" y="54.4" font-size="6.5" text-anchor="end">60</text>
<line x1="310.3" x2="312.6" y1="30.1" y2="30.1" stroke="#222" stroke-width="0.55"/>
<text x="308.1" y="32.7" font-size="6.5" text-anchor="end">70</text>
<line x1="310.3" x2="312.6" y1="8.4" y2="8.4" stroke="#222" stroke-width="0.55"/>
<text x="308.1" y="11.0" font-size="6.5" text-anchor="end">80</text>
<line x1="319.4" x2="319.4" y1="181.8" y2="184.1" stroke="#222" stroke-width="0.55"/>
<text x="319.0" y="191.7" font-size="6.5" text-anchor="middle">10<tspan dy="-2.6" font-size="4.0">−1</tspan></text>
<line x1="363.1" x2="363.1" y1="181.8" y2="184.1" stroke="#222" stroke-width="0.55"/>
<text x="362.7" y="191.7" font-size="6.5" text-anchor="middle">10<tspan dy="-2.6" font-size="4.6">0</tspan></text>
<line x1="406.9" x2="406.9" y1="181.8" y2="184.1" stroke="#222" stroke-width="0.55"/>
<text x="406.5" y="191.7" font-size="6.5" text-anchor="middle">10<tspan dy="-2.6" font-size="4.6">1</tspan></text>
<line x1="450.7" x2="450.7" y1="181.8" y2="184.1" stroke="#222" stroke-width="0.55"/>
<text x="450.3" y="191.7" font-size="6.5" text-anchor="middle">10<tspan dy="-2.6" font-size="4.6">2</tspan></text>
<line x1="494.4" x2="494.4" y1="181.8" y2="184.1" stroke="#222" stroke-width="0.55"/>
<text x="494.0" y="191.7" font-size="6.5" text-anchor="middle">10<tspan dy="-2.6" font-size="4.6">3</tspan></text>
<line x1="312.6" x2="312.6" y1="181.8" y2="183.1" stroke="#222" stroke-width="0.4"/>
<line x1="315.1" x2="315.1" y1="181.8" y2="183.1" stroke="#222" stroke-width="0.4"/>
<line x1="317.4" x2="317.4" y1="181.8" y2="183.1" stroke="#222" stroke-width="0.4"/>
<line x1="332.6" x2="332.6" y1="181.8" y2="183.1" stroke="#222" stroke-width="0.4"/>
<line x1="340.3" x2="340.3" y1="181.8" y2="183.1" stroke="#222" stroke-width="0.4"/>
<line x1="345.7" x2="345.7" y1="181.8" y2="183.1" stroke="#222" stroke-width="0.4"/>
<line x1="350.0" x2="350.0" y1="181.8" y2="183.1" stroke="#222" stroke-width="0.4"/>
<line x1="353.4" x2="353.4" y1="181.8" y2="183.1" stroke="#222" stroke-width="0.4"/>
<line x1="356.4" x2="356.4" y1="181.8" y2="183.1" stroke="#222" stroke-width="0.4"/>
<line x1="358.9" x2="358.9" y1="181.8" y2="183.1" stroke="#222" stroke-width="0.4"/>
<line x1="361.1" x2="361.1" y1="181.8" y2="183.1" stroke="#222" stroke-width="0.4"/>
<line x1="376.3" x2="376.3" y1="181.8" y2="183.1" stroke="#222" stroke-width="0.4"/>
<line x1="384.0" x2="384.0" y1="181.8" y2="183.1" stroke="#222" stroke-width="0.4"/>
<line x1="389.5" x2="389.5" y1="181.8" y2="183.1" stroke="#222" stroke-width="0.4"/>
<line x1="393.7" x2="393.7" y1="181.8" y2="183.1" stroke="#222" stroke-width="0.4"/>
<line x1="397.2" x2="397.2" y1="181.8" y2="183.1" stroke="#222" stroke-width="0.4"/>
<line x1="400.1" x2="400.1" y1="181.8" y2="183.1" stroke="#222" stroke-width="0.4"/>
<line x1="402.7" x2="402.7" y1="181.8" y2="183.1" stroke="#222" stroke-width="0.4"/>
<line x1="404.9" x2="404.9" y1="181.8" y2="183.1" stroke="#222" stroke-width="0.4"/>
<line x1="420.1" x2="420.1" y1="181.8" y2="183.1" stroke="#222" stroke-width="0.4"/>
<line x1="427.8" x2="427.8" y1="181.8" y2="183.1" stroke="#222" stroke-width="0.4"/>
<line x1="433.2" x2="433.2" y1="181.8" y2="183.1" stroke="#222" stroke-width="0.4"/>
<line x1="437.5" x2="437.5" y1="181.8" y2="183.1" stroke="#222" stroke-width="0.4"/>
<line x1="440.9" x2="440.9" y1="181.8" y2="183.1" stroke="#222" stroke-width="0.4"/>
<line x1="443.9" x2="443.9" y1="181.8" y2="183.1" stroke="#222" stroke-width="0.4"/>
<line x1="446.4" x2="446.4" y1="181.8" y2="183.1" stroke="#222" stroke-width="0.4"/>
<line x1="448.7" x2="448.7" y1="181.8" y2="183.1" stroke="#222" stroke-width="0.4"/>
<line x1="463.8" x2="463.8" y1="181.8" y2="183.1" stroke="#222" stroke-width="0.4"/>
<line x1="471.5" x2="471.5" y1="181.8" y2="183.1" stroke="#222" stroke-width="0.4"/>
<line x1="477.0" x2="477.0" y1="181.8" y2="183.1" stroke="#222" stroke-width="0.4"/>
<line x1="481.2" x2="481.2" y1="181.8" y2="183.1" stroke="#222" stroke-width="0.4"/>
<line x1="484.7" x2="484.7" y1="181.8" y2="183.1" stroke="#222" stroke-width="0.4"/>
<line x1="487.6" x2="487.6" y1="181.8" y2="183.1" stroke="#222" stroke-width="0.4"/>
<line x1="490.2" x2="490.2" y1="181.8" y2="183.1" stroke="#222" stroke-width="0.4"/>
<line x1="492.4" x2="492.4" y1="181.8" y2="183.1" stroke="#222" stroke-width="0.4"/>
<text x="406.6" y="200.7" font-size="6.5" text-anchor="middle"><tspan font-style="italic">β</tspan> (rad)</text>
<text transform="translate(295.6,95.1) rotate(-90)" font-size="6.5" text-anchor="middle"><tspan font-style="italic">f</tspan><tspan font-style="italic" font-size="4.6" dy="1.3">mod</tspan><tspan dy="-1.3"> (GHz)</tspan></text>
<rect x="511.1" y="164.46" width="9.10" height="17.64" fill="#471365"/>
<rect x="511.1" y="147.12" width="9.10" height="17.64" fill="#463480"/>
<rect x="511.1" y="129.78" width="9.10" height="17.64" fill="#3b528b"/>
<rect x="511.1" y="112.44" width="9.10" height="17.64" fill="#2f6c8e"/>
<rect x="511.1" y="95.10" width="9.10" height="17.64" fill="#25848e"/>
<rect x="511.1" y="77.76" width="9.10" height="17.64" fill="#1e9c89"/>
<rect x="511.1" y="60.42" width="9.10" height="17.64" fill="#2fb47c"/>
<rect x="511.1" y="43.08" width="9.10" height="17.64" fill="#5ec962"/>
<rect x="511.1" y="25.74" width="9.10" height="17.64" fill="#9bd93c"/>
<rect x="511.1" y="8.40" width="9.10" height="17.64" fill="#dfe318"/>
<rect x="511.1" y="8.4" width="9.10" height="173.40" fill="none" stroke="#222" stroke-width="0.55"/>
<line x1="520.2" x2="522.5" y1="181.8" y2="181.8" stroke="#222" stroke-width="0.55"/>
<text x="524.4" y="184.4" font-size="6.5">0.0</text>
<line x1="520.2" x2="522.5" y1="147.1" y2="147.1" stroke="#222" stroke-width="0.55"/>
<text x="524.4" y="149.7" font-size="6.5">0.2</text>
<line x1="520.2" x2="522.5" y1="112.4" y2="112.4" stroke="#222" stroke-width="0.55"/>
<text x="524.4" y="115.0" font-size="6.5">0.4</text>
<line x1="520.2" x2="522.5" y1="77.8" y2="77.8" stroke="#222" stroke-width="0.55"/>
<text x="524.4" y="80.4" font-size="6.5">0.6</text>
<line x1="520.2" x2="522.5" y1="43.1" y2="43.1" stroke="#222" stroke-width="0.55"/>
<text x="524.4" y="45.7" font-size="6.5">0.8</text>
<line x1="520.2" x2="522.5" y1="8.4" y2="8.4" stroke="#222" stroke-width="0.55"/>
<text x="524.4" y="11.0" font-size="6.5">1.0</text>
<text transform="translate(541.8,96.6) rotate(-90)" font-size="6.5" text-anchor="middle">OMA [mW]</text>
<text x="280.5" y="19.75" font-size="14.7" letter-spacing="-0.3" font-family='"Liberation Serif","DejaVu Serif",serif' class="s">(<tspan font-size="15.8">b</tspan>)</text>
<text x="441.5" y="22.5" font-size="14.5" textLength="56.8" lengthAdjust="spacingAndGlyphs" font-family='"Liberation Serif","DejaVu Serif",serif' class="s">50 GBd/s</text>
<clipPath id="c2"><rect x="38.0" y="210.5" width="186.80" height="174.10"/></clipPath>
<g clip-path="url(#c2)" shape-rendering="geometricPrecision">
<path d="M123.60 384.60L224.80 384.60L224.80 210.50L38.00 210.50L38.00 378.09L40.95 379.06L43.93 379.90L47.17 380.67L50.69 381.37L54.56 382.00L58.20 382.48L62.20 382.92L66.63 383.31L71.61 383.64L76.27 383.88L81.55 384.09L87.79 384.27L102.39 384.49L123.60 384.60Z" fill="#470e61" stroke="#470e61" stroke-width="0.3" fill-rule="evenodd"/>
<path d="M206.56 384.54L224.80 384.54L224.80 210.50L38.00 210.50L38.00 374.13L39.97 375.19L41.74 376.05L43.65 376.89L45.82 377.75L48.12 378.55L50.15 379.19L52.73 379.90L55.02 380.45L57.46 380.98L60.07 381.46L62.86 381.91L65.87 382.33L71.97 382.99L79.18 383.53L85.54 383.85L93.03 384.11L102.01 384.29L112.12 384.40L140.95 384.52L206.56 384.54Z" fill="#482677" stroke="#482677" stroke-width="0.3" fill-rule="evenodd"/>
<path d="M167.61 384.37L224.80 384.38L224.80 210.50L38.00 210.50L38.00 367.76L39.75 369.28L41.53 370.70L43.41 372.05L45.11 373.14L47.19 374.36L49.07 375.35L51.06 376.29L53.16 377.18L55.38 378.02L57.74 378.81L60.26 379.55L62.97 380.24L65.89 380.87L68.51 381.37L71.33 381.82L74.41 382.25L79.98 382.85L86.74 383.37L94.32 383.74L103.14 384.01L112.87 384.17L125.97 384.28L167.61 384.37Z" fill="#433d84" stroke="#433d84" stroke-width="0.3" fill-rule="evenodd"/>
<path d="M199.68 384.13L224.80 384.13L224.80 210.50L38.00 210.50L38.00 357.26L39.42 359.36L40.97 361.44L42.60 363.43L44.09 365.10L45.89 366.92L47.79 368.66L49.80 370.30L51.66 371.67L53.62 372.96L55.70 374.19L57.90 375.35L60.25 376.44L62.76 377.47L65.06 378.29L67.95 379.19L70.62 379.90L73.52 380.56L76.18 381.08L79.60 381.65L82.81 382.08L85.92 382.43L89.29 382.75L96.60 383.25L104.80 383.59L114.74 383.83L126.02 383.97L142.07 384.06L199.68 384.13Z" fill="#3b528b" stroke="#3b528b" stroke-width="0.3" fill-rule="evenodd"/>
<path d="M162.90 383.69L224.80 383.73L224.80 210.50L38.00 210.50L38.00 338.86L39.13 341.94L40.22 344.66L41.51 347.61L42.72 350.14L44.16 352.88L45.50 355.22L46.91 357.46L48.39 359.62L49.95 361.69L51.60 363.67L53.33 365.56L54.93 367.15L56.85 368.87L58.63 370.30L60.51 371.67L62.49 372.96L64.60 374.19L66.84 375.35L68.89 376.29L71.32 377.28L73.80 378.16L76.34 378.94L79.10 379.67L81.61 380.24L84.35 380.77L87.04 381.22L90.10 381.65L93.03 381.99L99.63 382.56L107.28 382.99L116.61 383.30L127.84 383.50L142.82 383.63L162.90 383.69Z" fill="#32658e" stroke="#32658e" stroke-width="0.3" fill-rule="evenodd"/>
<path d="M171.07 383.06L224.80 383.09L224.80 210.50L38.00 210.50L38.00 299.63L38.82 305.19L39.66 310.29L40.56 315.22L41.54 319.98L42.60 324.57L43.62 328.60L44.83 332.87L46.00 336.60L47.26 340.20L48.59 343.65L50.00 346.97L51.51 350.14L53.12 353.18L54.65 355.79L56.46 358.56L58.19 360.93L59.81 362.94L61.31 364.63L62.88 366.25L64.54 367.80L66.28 369.28L68.12 370.70L70.08 372.05L72.07 373.27L74.05 374.36L76.07 375.35L78.23 376.29L80.56 377.18L82.92 377.97L85.38 378.68L87.89 379.31L90.66 379.90L93.14 380.35L95.90 380.77L99.02 381.17L101.74 381.46L108.48 382.00L116.57 382.41L125.60 382.68L136.83 382.87L151.23 382.99L171.07 383.06Z" fill="#2a768e" stroke="#2a768e" stroke-width="0.3" fill-rule="evenodd"/>
<path d="M163.95 382.00L224.80 382.08L224.80 210.50L40.68 210.50L41.27 227.51L41.93 242.38L42.67 255.92L43.52 268.21L44.51 279.88L45.61 290.43L46.82 299.92L47.52 304.72L48.20 308.92L49.01 313.45L49.78 317.41L50.61 321.25L51.49 324.98L52.42 328.60L53.40 332.11L54.45 335.50L55.43 338.42L56.60 341.60L57.69 344.33L58.99 347.29L60.20 349.83L61.49 352.28L62.83 354.64L64.26 356.91L65.75 359.09L67.13 360.93L68.58 362.69L70.11 364.39L71.72 366.02L73.42 367.58L74.95 368.87L76.58 370.10L78.43 371.37L80.12 372.42L82.07 373.50L84.04 374.47L86.05 375.35L88.08 376.14L90.41 376.93L92.72 377.61L95.28 378.25L97.85 378.81L100.14 379.23L102.76 379.65L105.49 380.01L108.47 380.35L111.75 380.65L118.86 381.13L126.72 381.47L136.83 381.73L148.81 381.90L163.95 382.00Z" fill="#24878e" stroke="#24878e" stroke-width="0.3" fill-rule="evenodd"/>
<path d="M197.06 380.45L224.80 380.47L224.80 210.50L49.46 210.50L50.08 228.17L50.78 243.64L51.58 257.71L52.49 270.48L53.51 282.04L54.12 287.84L54.72 292.97L55.36 297.97L56.05 302.82L56.79 307.53L57.58 312.10L58.44 316.54L59.26 320.41L60.23 324.57L61.17 328.21L62.27 332.11L63.33 335.50L64.46 338.78L65.65 341.94L66.91 344.99L68.26 347.93L69.68 350.76L71.02 353.18L72.44 355.50L73.95 357.74L75.54 359.89L77.24 361.95L78.80 363.65L80.30 365.14L82.03 366.70L83.66 368.02L85.39 369.28L87.04 370.37L88.92 371.48L90.78 372.45L92.65 373.33L94.76 374.19L97.10 375.03L99.16 375.67L101.45 376.29L104.03 376.89L106.88 377.45L109.50 377.88L112.42 378.29L115.12 378.60L121.48 379.17L128.59 379.60L137.20 379.93L147.31 380.16L159.66 380.31L175.39 380.41L197.06 380.45Z" fill="#1f998a" stroke="#1f998a" stroke-width="0.3" fill-rule="evenodd"/>
<path d="M192.83 377.88L224.80 377.92L224.80 210.50L58.29 210.50L58.89 227.51L59.56 242.38L60.31 255.92L61.21 268.78L62.23 280.42L63.36 290.94L64.60 300.41L65.32 305.19L66.03 309.38L66.77 313.45L67.57 317.41L68.42 321.25L69.33 324.98L70.29 328.60L71.32 332.11L72.42 335.50L73.45 338.42L74.68 341.60L75.84 344.33L77.08 346.97L78.39 349.52L79.78 351.98L81.07 354.06L82.55 356.21L84.12 358.29L85.54 359.98L87.04 361.60L88.54 363.07L90.02 364.39L91.53 365.62L93.33 366.92L95.02 368.02L96.85 369.08L98.64 370.00L100.62 370.90L102.54 371.67L104.66 372.42L106.88 373.10L109.13 373.70L111.75 374.30L114.37 374.82L116.99 375.25L119.61 375.62L122.60 375.98L125.71 376.29L132.71 376.82L140.57 377.21L149.56 377.48L160.79 377.68L174.64 377.81L192.83 377.88Z" fill="#24aa83" stroke="#24aa83" stroke-width="0.3" fill-rule="evenodd"/>
<path d="M218.18 373.85L224.80 373.85L224.80 210.50L67.24 210.50L67.85 227.51L68.56 243.01L69.39 257.12L70.28 269.35L71.33 280.96L71.89 286.28L72.50 291.45L73.16 296.48L73.80 300.90L74.56 305.66L75.30 309.84L76.09 313.89L76.94 317.84L77.84 321.67L78.81 325.39L79.85 329.00L80.83 332.11L82.01 335.50L83.14 338.42L84.34 341.25L85.54 343.81L86.83 346.31L88.16 348.65L89.66 351.02L91.16 353.15L92.65 355.06L94.27 356.91L95.65 358.33L97.33 359.89L98.88 361.18L100.52 362.40L102.39 363.65L104.04 364.63L105.80 365.56L107.74 366.48L109.87 367.36L111.75 368.04L113.99 368.75L116.61 369.47L118.86 370.00L121.48 370.54L124.10 371.00L127.09 371.44L132.71 372.09L139.45 372.64L147.31 373.06L156.29 373.37L166.40 373.58L179.13 373.72L195.60 373.81L218.18 373.85Z" fill="#3aba76" stroke="#3aba76" stroke-width="0.3" fill-rule="evenodd"/>
<path d="M184.19 367.15L200.84 367.25L224.80 367.31L224.80 210.50L76.49 210.50L77.02 224.85L77.65 238.57L78.36 251.08L79.15 262.43L80.01 272.73L81.02 282.57L82.11 291.45L83.30 299.47L84.64 307.07L85.38 310.75L86.18 314.34L87.03 317.84L87.79 320.71L88.67 323.75L89.57 326.61L90.53 329.39L91.53 332.04L92.50 334.38L93.49 336.60L94.56 338.78L95.69 340.90L96.91 342.97L98.27 345.07L99.39 346.65L100.64 348.25L101.99 349.83L103.14 351.07L104.63 352.52L106.05 353.77L107.63 355.02L109.13 356.09L110.83 357.19L112.50 358.15L114.33 359.09L116.06 359.89L118.11 360.72L120.10 361.44L122.23 362.11L124.47 362.74L126.72 363.28L128.97 363.76L131.59 364.24L134.21 364.66L139.82 365.37L146.56 365.97L154.05 366.42L162.28 366.74L172.02 366.98L184.19 367.15Z" fill="#5ec962" stroke="#5ec962" stroke-width="0.3" fill-rule="evenodd"/>
<path d="M193.19 356.35L206.83 356.45L224.80 356.51L224.80 210.50L86.53 210.50L87.10 224.18L87.73 236.65L88.48 248.62L89.26 258.90L90.17 268.78L91.16 277.69L92.28 286.13L93.45 293.48L94.15 297.35L94.86 300.90L96.26 307.07L97.10 310.29L97.87 313.00L98.69 315.66L99.56 318.27L100.52 320.88L101.51 323.34L102.40 325.39L103.51 327.71L104.63 329.84L105.76 331.79L106.92 333.63L108.22 335.50L109.50 337.16L110.62 338.50L111.86 339.85L113.27 341.25L114.74 342.57L116.24 343.78L117.74 344.88L119.23 345.87L121.07 346.97L122.60 347.79L124.47 348.68L126.35 349.48L128.22 350.20L130.09 350.83L132.34 351.51L134.58 352.10L136.83 352.62L139.45 353.15L144.32 353.94L150.09 354.64L156.67 355.21L163.78 355.63L172.02 355.95L181.75 356.19L193.19 356.35Z" fill="#89d548" stroke="#89d548" stroke-width="0.3" fill-rule="evenodd"/>
<path d="M204.14 337.33L224.80 337.47L224.80 210.50L98.74 210.50L99.38 222.16L100.08 232.77L100.89 242.91L101.73 251.69L102.75 260.67L103.77 268.21L104.94 275.51L106.13 281.78L106.88 285.22L107.62 288.36L108.38 291.31L109.13 293.97L109.87 296.43L110.71 298.95L111.59 301.38L112.50 303.69L113.55 306.13L114.42 308.00L115.49 310.08L116.61 312.08L117.74 313.91L118.86 315.58L119.98 317.11L121.11 318.51L122.23 319.80L123.60 321.25L124.92 322.51L126.35 323.75L127.84 324.93L129.04 325.80L130.46 326.74L132.26 327.81L133.83 328.65L135.35 329.39L137.20 330.20L139.11 330.95L141.32 331.72L143.19 332.29L145.30 332.87L147.31 333.36L149.56 333.84L152.18 334.33L157.04 335.08L162.66 335.72L168.97 336.24L175.76 336.63L184.00 336.95L193.35 337.18L204.14 337.33Z" fill="#b8de29" stroke="#b8de29" stroke-width="0.3" fill-rule="evenodd"/>
<path d="M220.36 295.99L224.80 296.03L224.80 210.50L119.03 210.50L119.94 218.09L120.87 224.85L121.85 231.02L122.98 237.15L124.10 242.47L125.45 248.00L126.72 252.52L128.21 257.12L129.72 261.13L131.28 264.76L132.11 266.49L133.08 268.37L134.96 271.61L136.84 274.40L137.95 275.88L139.07 277.25L140.20 278.52L141.32 279.69L142.65 280.96L143.94 282.10L145.19 283.10L146.56 284.12L149.18 285.82L150.68 286.68L152.18 287.46L155.17 288.82L158.54 290.08L161.91 291.13L165.65 292.07L169.77 292.90L173.89 293.56L178.76 294.17L184.00 294.67L189.61 295.07L195.98 295.40L202.71 295.64L210.95 295.84L220.36 295.99Z" fill="#e7e419" stroke="#e7e419" stroke-width="0.3" fill-rule="evenodd"/>
<circle cx="72.9" cy="232.3" r="2.25" fill="#ea70c8"/>
<circle cx="84.8" cy="232.3" r="2.25" fill="#7f7f7f"/>
<circle cx="122.6" cy="232.3" r="2.25" fill="#dc143c"/>
<circle cx="72.1" cy="280.2" r="2.25" fill="#d62728"/>
<circle cx="71.6" cy="297.7" r="2.25" fill="#ee76d8"/>
<circle cx="139.1" cy="293.3" r="2.25" fill="#2369c8"/>
<circle cx="121.6" cy="304.2" r="2.25" fill="#c8c850"/>
<circle cx="85.4" cy="319.4" r="2.25" fill="#ff8c12"/>
<circle cx="95.2" cy="319.4" r="2.25" fill="#1f77b4"/>
<circle cx="69.5" cy="326.0" r="2.25" fill="#ff8c12"/>
<circle cx="144.4" cy="330.3" r="2.25" fill="#943a5c"/>
<circle cx="135.6" cy="353.4" r="2.25" fill="#2ca02c"/>
<circle cx="104.3" cy="356.5" r="2.25" fill="#2ca02c"/>
<circle cx="80.2" cy="358.7" r="2.25" fill="#b066d6"/>
<circle cx="121.6" cy="378.9" r="2.25" fill="#8a767e"/>
<circle cx="71.1" cy="376.5" r="2.25" fill="#b8584a"/>
<circle cx="132.5" cy="380.4" r="2.25" fill="#bb6ad8"/>
<circle cx="139.1" cy="384.5" r="2.25" fill="#17becf"/>
</g>
<text x="91.9" y="226.5" font-size="5.8" text-anchor="end" class="a">BTO(demo.)[77]</text>
<text x="82.3" y="243.5" font-size="5.8" text-anchor="start" class="a">BTO(opt.)[77]</text>
<text x="127.6" y="237.3" font-size="5.8" text-anchor="start" class="a">LN(demo.)[73]</text>
<text x="72.1" y="276.4" font-size="5.8" text-anchor="start" class="a">Si(sim.)[50]</text>
<text x="71.6" y="293.7" font-size="5.8" text-anchor="start" class="a">SiGe(opt.)[58]</text>
<text x="139.1" y="289.5" font-size="5.8" text-anchor="start" class="a">InGaAsP(opt.)[61]</text>
<text x="127.3" y="304.5" font-size="5.8" text-anchor="start" class="a">InGaAsP(opt.)[62]</text>
<text x="92.0" y="315.2" font-size="5.8" text-anchor="end" class="a">InP(demo.)[64]</text>
<text x="101.2" y="315.2" font-size="5.8" text-anchor="start" class="a">Si(sim.)[34]</text>
<text x="81.0" y="330.4" font-size="5.8" text-anchor="start" class="a">Si(demo.)[33]</text>
<text x="144.8" y="326.5" font-size="5.8" text-anchor="start" class="a">BTO(opt.)[75]</text>
<text x="135.6" y="349.2" font-size="5.8" text-anchor="start" class="a">GaAs(sim.)[68]</text>
<text x="91.1" y="352.3" font-size="5.8" text-anchor="start" class="a">Si(demo.)[49]</text>
<text x="88.1" y="354.2" font-size="5.8" text-anchor="end" class="a">SiGe(demo.)[57]</text>
<text x="157.9" y="368.3" font-size="5.8" text-anchor="end" class="a">InGaAsP(demo.)[62]</text>
<text x="93.2" y="372.3" font-size="5.8" text-anchor="end" class="a">SiGe(demo.)[58]</text>
<text x="132.3" y="377.1" font-size="5.8" text-anchor="start" class="a">BTO(demo.)[75]</text>
<text x="143.3" y="383.9" font-size="5.8" text-anchor="start" class="a">InGaAsP(demo.)[61]</text>
<rect x="38.0" y="210.5" width="186.80" height="174.10" fill="none" stroke="#222" stroke-width="0.55"/>
<line x1="35.7" x2="38.0" y1="363.0" y2="363.0" stroke="#222" stroke-width="0.55"/>
<text x="33.5" y="365.6" font-size="6.5" text-anchor="end">10</text>
<line x1="35.7" x2="38.0" y1="341.2" y2="341.2" stroke="#222" stroke-width="0.55"/>
<text x="33.5" y="343.8" font-size="6.5" text-anchor="end">20</text>
<line x1="35.7" x2="38.0" y1="319.4" y2="319.4" stroke="#222" stroke-width="0.55"/>
<text x="33.5" y="322.0" font-size="6.5" text-anchor="end">30</text>
<line x1="35.7" x2="38.0" y1="297.7" y2="297.7" stroke="#222" stroke-width="0.55"/>
<text x="33.5" y="300.3" font-size="6.5" text-anchor="end">40</text>
<line x1="35.7" x2="38.0" y1="275.9" y2="275.9" stroke="#222" stroke-width="0.55"/>
<text x="33.5" y="278.5" font-size="6.5" text-anchor="end">50</text>
<line x1="35.7" x2="38.0" y1="254.1" y2="254.1" stroke="#222" stroke-width="0.55"/>
<text x="33.5" y="256.7" font-size="6.5" text-anchor="end">60</text>
<line x1="35.7" x2="38.0" y1="232.3" y2="232.3" stroke="#222" stroke-width="0.55"/>
<text x="33.5" y="234.9" font-size="6.5" text-anchor="end">70</text>
<line x1="35.7" x2="38.0" y1="210.5" y2="210.5" stroke="#222" stroke-width="0.55"/>
<text x="33.5" y="213.1" font-size="6.5" text-anchor="end">80</text>
<line x1="44.8" x2="44.8" y1="384.6" y2="386.9" stroke="#222" stroke-width="0.55"/>
<text x="44.4" y="394.5" font-size="6.5" text-anchor="middle">10<tspan dy="-2.6" font-size="4.0">−1</tspan></text>
<line x1="88.5" x2="88.5" y1="384.6" y2="386.9" stroke="#222" stroke-width="0.55"/>
<text x="88.1" y="394.5" font-size="6.5" text-anchor="middle">10<tspan dy="-2.6" font-size="4.6">0</tspan></text>
<line x1="132.3" x2="132.3" y1="384.6" y2="386.9" stroke="#222" stroke-width="0.55"/>
<text x="131.9" y="394.5" font-size="6.5" text-anchor="middle">10<tspan dy="-2.6" font-size="4.6">1</tspan></text>
<line x1="176.1" x2="176.1" y1="384.6" y2="386.9" stroke="#222" stroke-width="0.55"/>
<text x="175.7" y="394.5" font-size="6.5" text-anchor="middle">10<tspan dy="-2.6" font-size="4.6">2</tspan></text>
<line x1="219.8" x2="219.8" y1="384.6" y2="386.9" stroke="#222" stroke-width="0.55"/>
<text x="219.4" y="394.5" font-size="6.5" text-anchor="middle">10<tspan dy="-2.6" font-size="4.6">3</tspan></text>
<line x1="38.0" x2="38.0" y1="384.6" y2="385.9" stroke="#222" stroke-width="0.4"/>
<line x1="40.5" x2="40.5" y1="384.6" y2="385.9" stroke="#222" stroke-width="0.4"/>
<line x1="42.8" x2="42.8" y1="384.6" y2="385.9" stroke="#222" stroke-width="0.4"/>
<line x1="58.0" x2="58.0" y1="384.6" y2="385.9" stroke="#222" stroke-width="0.4"/>
<line x1="65.7" x2="65.7" y1="384.6" y2="385.9" stroke="#222" stroke-width="0.4"/>
<line x1="71.1" x2="71.1" y1="384.6" y2="385.9" stroke="#222" stroke-width="0.4"/>
<line x1="75.4" x2="75.4" y1="384.6" y2="385.9" stroke="#222" stroke-width="0.4"/>
<line x1="78.8" x2="78.8" y1="384.6" y2="385.9" stroke="#222" stroke-width="0.4"/>
<line x1="81.8" x2="81.8" y1="384.6" y2="385.9" stroke="#222" stroke-width="0.4"/>
<line x1="84.3" x2="84.3" y1="384.6" y2="385.9" stroke="#222" stroke-width="0.4"/>
<line x1="86.5" x2="86.5" y1="384.6" y2="385.9" stroke="#222" stroke-width="0.4"/>
<line x1="101.7" x2="101.7" y1="384.6" y2="385.9" stroke="#222" stroke-width="0.4"/>
<line x1="109.4" x2="109.4" y1="384.6" y2="385.9" stroke="#222" stroke-width="0.4"/>
<line x1="114.9" x2="114.9" y1="384.6" y2="385.9" stroke="#222" stroke-width="0.4"/>
<line x1="119.1" x2="119.1" y1="384.6" y2="385.9" stroke="#222" stroke-width="0.4"/>
<line x1="122.6" x2="122.6" y1="384.6" y2="385.9" stroke="#222" stroke-width="0.4"/>
<line x1="125.5" x2="125.5" y1="384.6" y2="385.9" stroke="#222" stroke-width="0.4"/>
<line x1="128.1" x2="128.1" y1="384.6" y2="385.9" stroke="#222" stroke-width="0.4"/>
<line x1="130.3" x2="130.3" y1="384.6" y2="385.9" stroke="#222" stroke-width="0.4"/>
<line x1="145.5" x2="145.5" y1="384.6" y2="385.9" stroke="#222" stroke-width="0.4"/>
<line x1="153.2" x2="153.2" y1="384.6" y2="385.9" stroke="#222" stroke-width="0.4"/>
<line x1="158.6" x2="158.6" y1="384.6" y2="385.9" stroke="#222" stroke-width="0.4"/>
<line x1="162.9" x2="162.9" y1="384.6" y2="385.9" stroke="#222" stroke-width="0.4"/>
<line x1="166.3" x2="166.3" y1="384.6" y2="385.9" stroke="#222" stroke-width="0.4"/>
<line x1="169.3" x2="169.3" y1="384.6" y2="385.9" stroke="#222" stroke-width="0.4"/>
<line x1="171.8" x2="171.8" y1="384.6" y2="385.9" stroke="#222" stroke-width="0.4"/>
<line x1="174.1" x2="174.1" y1="384.6" y2="385.9" stroke="#222" stroke-width="0.4"/>
<line x1="189.2" x2="189.2" y1="384.6" y2="385.9" stroke="#222" stroke-width="0.4"/>
<line x1="196.9" x2="196.9" y1="384.6" y2="385.9" stroke="#222" stroke-width="0.4"/>
<line x1="202.4" x2="202.4" y1="384.6" y2="385.9" stroke="#222" stroke-width="0.4"/>
<line x1="206.6" x2="206.6" y1="384.6" y2="385.9" stroke="#222" stroke-width="0.4"/>
<line x1="210.1" x2="210.1" y1="384.6" y2="385.9" stroke="#222" stroke-width="0.4"/>
<line x1="213.0" x2="213.0" y1="384.6" y2="385.9" stroke="#222" stroke-width="0.4"/>
<line x1="215.6" x2="215.6" y1="384.6" y2="385.9" stroke="#222" stroke-width="0.4"/>
<line x1="217.8" x2="217.8" y1="384.6" y2="385.9" stroke="#222" stroke-width="0.4"/>
<text x="132.0" y="403.5" font-size="6.5" text-anchor="middle"><tspan font-style="italic">β</tspan> (rad)</text>
<text transform="translate(21.0,297.6) rotate(-90)" font-size="6.5" text-anchor="middle"><tspan font-style="italic">f</tspan><tspan font-style="italic" font-size="4.6" dy="1.3">mod</tspan><tspan dy="-1.3"> (GHz)</tspan></text>
<rect x="236.2" y="372.16" width="8.90" height="12.74" fill="#470e61"/>
<rect x="236.2" y="359.73" width="8.90" height="12.74" fill="#482677"/>
<rect x="236.2" y="347.29" width="8.90" height="12.74" fill="#433d84"/>
<rect x="236.2" y="334.86" width="8.90" height="12.74" fill="#3b528b"/>
<rect x="236.2" y="322.42" width="8.90" height="12.74" fill="#32658e"/>
<rect x="236.2" y="309.99" width="8.90" height="12.74" fill="#2a768e"/>
<rect x="236.2" y="297.55" width="8.90" height="12.74" fill="#24878e"/>
<rect x="236.2" y="285.11" width="8.90" height="12.74" fill="#1f998a"/>
<rect x="236.2" y="272.68" width="8.90" height="12.74" fill="#24aa83"/>
<rect x="236.2" y="260.24" width="8.90" height="12.74" fill="#3aba76"/>
<rect x="236.2" y="247.81" width="8.90" height="12.74" fill="#5ec962"/>
<rect x="236.2" y="235.37" width="8.90" height="12.74" fill="#89d548"/>
<rect x="236.2" y="222.94" width="8.90" height="12.74" fill="#b8de29"/>
<rect x="236.2" y="210.50" width="8.90" height="12.74" fill="#e7e419"/>
<rect x="236.2" y="210.5" width="8.90" height="174.10" fill="none" stroke="#222" stroke-width="0.55"/>
<line x1="245.1" x2="247.4" y1="384.6" y2="384.6" stroke="#222" stroke-width="0.55"/>
<text x="249.3" y="387.2" font-size="6.5">−28</text>
<line x1="245.1" x2="247.4" y1="359.7" y2="359.7" stroke="#222" stroke-width="0.55"/>
<text x="249.3" y="362.3" font-size="6.5">−24</text>
<line x1="245.1" x2="247.4" y1="334.9" y2="334.9" stroke="#222" stroke-width="0.55"/>
<text x="249.3" y="337.5" font-size="6.5">−20</text>
<line x1="245.1" x2="247.4" y1="310.0" y2="310.0" stroke="#222" stroke-width="0.55"/>
<text x="249.3" y="312.6" font-size="6.5">−16</text>
<line x1="245.1" x2="247.4" y1="285.1" y2="285.1" stroke="#222" stroke-width="0.55"/>
<text x="249.3" y="287.7" font-size="6.5">−12</text>
<line x1="245.1" x2="247.4" y1="260.2" y2="260.2" stroke="#222" stroke-width="0.55"/>
<text x="249.3" y="262.8" font-size="6.5">−8</text>
<line x1="245.1" x2="247.4" y1="235.4" y2="235.4" stroke="#222" stroke-width="0.55"/>
<text x="249.3" y="238.0" font-size="6.5">−4</text>
<line x1="245.1" x2="247.4" y1="210.5" y2="210.5" stroke="#222" stroke-width="0.55"/>
<text x="249.3" y="213.1" font-size="6.5">0</text>
<text transform="translate(270.5,299.1) rotate(-90)" font-size="6.5" text-anchor="middle">OMA [dBm]</text>
<text x="6.4" y="221.8" font-size="14.7" letter-spacing="-0.7" font-family='"Liberation Serif","DejaVu Serif",serif' class="s">(<tspan font-size="16.5">c</tspan>)</text>
<text x="156.8" y="223.3" font-size="14.5" textLength="63.5" lengthAdjust="spacingAndGlyphs" font-family='"Liberation Serif","DejaVu Serif",serif' class="s">100 GBd/s</text>
<clipPath id="c3"><rect x="313.8" y="210.4" width="186.50" height="173.60"/></clipPath>
<g clip-path="url(#c3)" shape-rendering="geometricPrecision">
<path d="M313.80 384.00L500.30 384.00L500.30 210.40L313.80 210.40L313.80 384.00Z" fill="#471365" stroke="#471365" stroke-width="0.3" fill-rule="evenodd"/>
<path d="M493.69 373.28L500.30 373.29L500.30 210.40L343.00 210.40L343.60 227.36L344.31 242.82L345.10 256.29L346.02 269.08L346.55 275.22L347.13 281.20L348.25 291.12L348.84 295.64L349.54 300.54L350.23 304.82L351.04 309.45L351.83 313.50L352.77 317.86L353.68 321.67L354.65 325.37L355.58 328.56L356.69 332.04L357.74 335.04L358.87 337.95L360.07 340.77L361.35 343.51L362.55 345.82L364.02 348.39L365.41 350.56L366.89 352.67L368.50 354.70L369.98 356.39L371.59 358.03L373.03 359.36L374.59 360.65L376.22 361.87L377.74 362.89L379.58 364.00L381.45 365.00L383.32 365.88L385.19 366.66L387.43 367.48L389.67 368.20L391.91 368.82L394.53 369.45L397.15 369.98L399.76 370.44L402.75 370.88L408.73 371.56L415.46 372.09L422.93 372.50L431.90 372.80L442.37 373.01L455.08 373.15L471.15 373.24L493.69 373.28Z" fill="#463480" stroke="#463480" stroke-width="0.3" fill-rule="evenodd"/>
<path d="M470.90 361.91L500.30 362.01L500.30 210.40L357.14 210.40L357.70 224.70L358.36 238.39L359.10 250.86L359.89 261.60L360.81 271.89L361.81 281.20L362.89 289.58L364.14 297.62L365.48 304.82L366.27 308.54L367.02 311.71L367.81 314.82L368.66 317.86L369.56 320.83L370.54 323.74L371.59 326.57L372.55 328.95L373.58 331.28L374.68 333.55L375.84 335.72L376.96 337.64L378.31 339.73L379.58 341.50L380.89 343.17L382.20 344.68L383.60 346.15L384.96 347.44L386.43 348.70L388.04 349.95L389.67 351.08L391.17 352.02L392.84 352.96L394.57 353.84L396.48 354.70L398.62 355.55L400.51 356.22L402.75 356.91L404.99 357.52L407.24 358.05L409.48 358.52L412.10 358.99L414.71 359.40L417.70 359.80L423.68 360.42L430.41 360.91L438.26 361.30L447.23 361.58L457.69 361.78L470.90 361.91Z" fill="#3b528b" stroke="#3b528b" stroke-width="0.3" fill-rule="evenodd"/>
<path d="M484.55 349.95L500.30 350.01L500.30 210.40L366.55 210.40L367.17 224.04L367.87 236.48L368.64 247.79L369.50 258.07L370.43 267.37L371.52 276.32L372.70 284.38L373.97 291.62L374.68 295.14L375.44 298.59L376.14 301.50L376.96 304.60L377.83 307.62L378.70 310.36L379.58 312.88L380.48 315.26L381.45 317.61L382.53 319.99L383.57 322.09L384.69 324.15L385.91 326.17L387.05 327.91L388.38 329.73L389.67 331.34L390.96 332.80L392.29 334.17L393.78 335.57L395.28 336.82L396.77 337.96L398.27 338.99L400.03 340.08L401.63 340.97L403.50 341.90L405.37 342.73L407.24 343.46L409.11 344.12L411.35 344.82L413.59 345.44L415.83 345.98L418.20 346.47L420.69 346.93L423.31 347.35L428.91 348.05L434.89 348.60L442.00 349.06L449.84 349.40L459.19 349.65L470.40 349.83L484.55 349.95Z" fill="#2f6c8e" stroke="#2f6c8e" stroke-width="0.3" fill-rule="evenodd"/>
<path d="M472.40 336.51L484.60 336.65L500.30 336.74L500.30 210.40L374.59 210.40L375.19 221.35L375.89 231.95L376.65 241.56L377.52 250.86L378.47 259.25L379.47 266.80L380.53 273.56L381.74 280.12L383.00 285.96L384.45 291.63L385.96 296.63L386.79 299.08L387.69 301.50L388.55 303.63L389.48 305.76L390.42 307.72L391.54 309.87L392.66 311.82L393.71 313.50L394.90 315.24L395.89 316.57L397.15 318.11L398.27 319.38L399.67 320.83L400.88 321.97L402.00 322.95L403.52 324.15L404.99 325.21L406.49 326.18L407.98 327.07L409.48 327.87L410.97 328.61L412.84 329.44L414.71 330.17L416.58 330.83L418.45 331.43L420.69 332.05L424.80 333.02L429.66 333.90L434.89 334.61L440.50 335.18L446.85 335.65L454.33 336.03L462.55 336.30L472.40 336.51Z" fill="#25848e" stroke="#25848e" stroke-width="0.3" fill-rule="evenodd"/>
<path d="M483.69 321.25L500.30 321.39L500.30 210.40L382.54 210.40L383.28 220.68L384.06 229.73L384.88 237.76L385.85 245.94L386.89 253.29L387.97 259.84L389.20 266.23L390.42 271.60L391.17 274.54L391.91 277.24L393.41 282.04L394.16 284.18L395.03 286.48L395.88 288.56L396.77 290.56L397.78 292.64L398.64 294.29L399.76 296.25L400.88 298.05L402.00 299.69L403.13 301.20L404.25 302.59L405.37 303.87L406.49 305.04L407.71 306.22L409.11 307.46L410.44 308.54L411.72 309.48L413.22 310.49L414.71 311.41L416.21 312.24L417.82 313.05L419.57 313.85L421.07 314.47L422.93 315.17L424.80 315.80L426.67 316.36L428.91 316.96L430.93 317.43L435.27 318.29L440.13 319.03L445.36 319.64L451.34 320.14L457.69 320.53L465.17 320.85L473.76 321.09L483.69 321.25Z" fill="#1e9c89" stroke="#1e9c89" stroke-width="0.3" fill-rule="evenodd"/>
<path d="M488.58 302.45L500.30 302.59L500.30 210.40L391.48 210.40L392.29 218.16L393.15 225.37L394.16 232.60L395.20 239.03L396.38 245.32L397.52 250.57L398.80 255.69L400.14 260.31L401.63 264.78L403.13 268.65L404.82 272.45L406.54 275.77L407.49 277.41L408.51 279.04L409.48 280.48L410.60 282.02L411.72 283.43L412.84 284.73L413.96 285.92L415.09 287.03L416.21 288.06L417.40 289.07L418.72 290.10L419.94 290.97L422.57 292.64L424.06 293.46L425.55 294.22L427.05 294.91L428.78 295.64L430.41 296.26L432.28 296.90L436.02 297.99L439.75 298.87L443.86 299.64L448.35 300.31L453.21 300.87L458.81 301.35L464.79 301.73L471.52 302.03L479.37 302.27L488.58 302.45Z" fill="#2fb47c" stroke="#2fb47c" stroke-width="0.3" fill-rule="evenodd"/>
<path d="M495.88 277.41L500.30 277.48L500.30 210.40L403.37 210.40L404.36 215.92L405.37 220.96L406.49 225.88L407.61 230.23L408.87 234.54L410.14 238.39L411.35 241.64L412.90 245.32L414.38 248.41L416.05 251.47L417.70 254.13L419.57 256.76L421.62 259.25L423.68 261.43L425.92 263.47L428.17 265.24L430.47 266.80L433.03 268.29L435.64 269.59L438.63 270.85L441.62 271.90L444.99 272.89L448.35 273.70L452.09 274.44L456.20 275.10L460.31 275.62L464.79 276.07L469.65 276.45L475.26 276.78L481.24 277.04L487.97 277.25L495.88 277.41Z" fill="#5ec962" stroke="#5ec962" stroke-width="0.3" fill-rule="evenodd"/>
<path d="M487.21 238.39L493.20 238.66L500.30 238.88L500.30 210.40L426.53 210.40L427.42 212.01L428.54 213.89L429.66 215.63L430.78 217.22L431.90 218.70L433.03 220.06L434.17 221.35L435.64 222.87L436.89 224.04L438.26 225.22L439.75 226.40L441.25 227.47L442.74 228.45L444.24 229.34L445.73 230.15L447.60 231.07L449.47 231.89L451.27 232.60L453.21 233.29L455.08 233.88L457.32 234.52L459.19 234.99L463.67 235.93L468.53 236.72L474.14 237.41L480.12 237.95L487.21 238.39Z" fill="#9bd93c" stroke="#9bd93c" stroke-width="0.3" fill-rule="evenodd"/>
<circle cx="348.7" cy="232.1" r="2.25" fill="#f08cd6"/>
<circle cx="360.5" cy="232.1" r="2.25" fill="#908a82"/>
<circle cx="398.3" cy="232.1" r="2.25" fill="#e0242e"/>
<circle cx="347.8" cy="279.9" r="2.25" fill="#e03428"/>
<circle cx="347.3" cy="297.3" r="2.25" fill="#f07ada"/>
<circle cx="414.7" cy="293.0" r="2.25" fill="#2c6cb8"/>
<circle cx="397.3" cy="303.8" r="2.25" fill="#dcc032"/>
<circle cx="361.2" cy="319.0" r="2.25" fill="#ff8c12"/>
<circle cx="370.9" cy="319.0" r="2.25" fill="#1f77b4"/>
<circle cx="345.2" cy="325.6" r="2.25" fill="#ff8c12"/>
<circle cx="420.0" cy="329.9" r="2.25" fill="#bc5450"/>
<circle cx="411.2" cy="352.9" r="2.25" fill="#44b030"/>
<circle cx="380.0" cy="356.0" r="2.25" fill="#3cb428"/>
<circle cx="355.9" cy="358.1" r="2.25" fill="#c09adc"/>
<circle cx="397.3" cy="378.4" r="2.25" fill="#969088"/>
<circle cx="346.9" cy="376.0" r="2.25" fill="#c08850"/>
<circle cx="408.1" cy="379.8" r="2.25" fill="#c896dc"/>
<circle cx="414.7" cy="383.9" r="2.25" fill="#17becf"/>
</g>
<text x="367.7" y="226.3" font-size="5.8" text-anchor="end" class="a">BTO(demo.)[77]</text>
<text x="358.0" y="243.3" font-size="5.8" text-anchor="start" class="a">BTO(opt.)[77]</text>
<text x="403.3" y="237.1" font-size="5.8" text-anchor="start" class="a">LN(demo.)[73]</text>
<text x="347.8" y="276.1" font-size="5.8" text-anchor="start" class="a">Si(sim.)[50]</text>
<text x="347.3" y="293.3" font-size="5.8" text-anchor="start" class="a">SiGe(opt.)[58]</text>
<text x="414.7" y="289.2" font-size="5.8" text-anchor="start" class="a">InGaAsP(opt.)[61]</text>
<text x="403.0" y="304.1" font-size="5.8" text-anchor="start" class="a">InGaAsP(opt.)[62]</text>
<text x="367.8" y="314.8" font-size="5.8" text-anchor="end" class="a">InP(demo.)[64]</text>
<text x="376.9" y="314.8" font-size="5.8" text-anchor="start" class="a">Si(sim.)[34]</text>
<text x="356.7" y="330.0" font-size="5.8" text-anchor="start" class="a">Si(demo.)[33]</text>
<text x="420.4" y="326.1" font-size="5.8" text-anchor="start" class="a">BTO(opt.)[75]</text>
<text x="411.2" y="348.7" font-size="5.8" text-anchor="start" class="a">GaAs(sim.)[68]</text>
<text x="366.8" y="351.8" font-size="5.8" text-anchor="start" class="a">Si(demo.)[49]</text>
<text x="363.8" y="353.6" font-size="5.8" text-anchor="end" class="a">SiGe(demo.)[57]</text>
<text x="433.6" y="367.7" font-size="5.8" text-anchor="end" class="a">InGaAsP(demo.)[62]</text>
<text x="369.0" y="371.8" font-size="5.8" text-anchor="end" class="a">SiGe(demo.)[58]</text>
<text x="407.9" y="376.5" font-size="5.8" text-anchor="start" class="a">BTO(demo.)[75]</text>
<text x="418.9" y="383.3" font-size="5.8" text-anchor="start" class="a">InGaAsP(demo.)[61]</text>
<rect x="313.8" y="210.4" width="186.50" height="173.60" fill="none" stroke="#222" stroke-width="0.55"/>
<line x1="311.5" x2="313.8" y1="362.5" y2="362.5" stroke="#222" stroke-width="0.55"/>
<text x="309.3" y="365.1" font-size="6.5" text-anchor="end">10</text>
<line x1="311.5" x2="313.8" y1="340.8" y2="340.8" stroke="#222" stroke-width="0.55"/>
<text x="309.3" y="343.4" font-size="6.5" text-anchor="end">20</text>
<line x1="311.5" x2="313.8" y1="319.0" y2="319.0" stroke="#222" stroke-width="0.55"/>
<text x="309.3" y="321.6" font-size="6.5" text-anchor="end">30</text>
<line x1="311.5" x2="313.8" y1="297.3" y2="297.3" stroke="#222" stroke-width="0.55"/>
<text x="309.3" y="299.9" font-size="6.5" text-anchor="end">40</text>
<line x1="311.5" x2="313.8" y1="275.6" y2="275.6" stroke="#222" stroke-width="0.55"/>
<text x="309.3" y="278.2" font-size="6.5" text-anchor="end">50</text>
<line x1="311.5" x2="313.8" y1="253.9" y2="253.9" stroke="#222" stroke-width="0.55"/>
<text x="309.3" y="256.5" font-size="6.5" text-anchor="end">60</text>
<line x1="311.5" x2="313.8" y1="232.1" y2="232.1" stroke="#222" stroke-width="0.55"/>
<text x="309.3" y="234.7" font-size="6.5" text-anchor="end">70</text>
<line x1="311.5" x2="313.8" y1="210.4" y2="210.4" stroke="#222" stroke-width="0.55"/>
<text x="309.3" y="213.0" font-size="6.5" text-anchor="end">80</text>
<line x1="320.6" x2="320.6" y1="384.0" y2="386.3" stroke="#222" stroke-width="0.55"/>
<text x="320.2" y="393.9" font-size="6.5" text-anchor="middle">10<tspan dy="-2.6" font-size="4.0">−1</tspan></text>
<line x1="364.3" x2="364.3" y1="384.0" y2="386.3" stroke="#222" stroke-width="0.55"/>
<text x="363.9" y="393.9" font-size="6.5" text-anchor="middle">10<tspan dy="-2.6" font-size="4.6">0</tspan></text>
<line x1="407.9" x2="407.9" y1="384.0" y2="386.3" stroke="#222" stroke-width="0.55"/>
<text x="407.5" y="393.9" font-size="6.5" text-anchor="middle">10<tspan dy="-2.6" font-size="4.6">1</tspan></text>
<line x1="451.6" x2="451.6" y1="384.0" y2="386.3" stroke="#222" stroke-width="0.55"/>
<text x="451.2" y="393.9" font-size="6.5" text-anchor="middle">10<tspan dy="-2.6" font-size="4.6">2</tspan></text>
<line x1="495.3" x2="495.3" y1="384.0" y2="386.3" stroke="#222" stroke-width="0.55"/>
<text x="494.9" y="393.9" font-size="6.5" text-anchor="middle">10<tspan dy="-2.6" font-size="4.6">3</tspan></text>
<line x1="313.8" x2="313.8" y1="384.0" y2="385.3" stroke="#222" stroke-width="0.4"/>
<line x1="316.3" x2="316.3" y1="384.0" y2="385.3" stroke="#222" stroke-width="0.4"/>
<line x1="318.6" x2="318.6" y1="384.0" y2="385.3" stroke="#222" stroke-width="0.4"/>
<line x1="333.7" x2="333.7" y1="384.0" y2="385.3" stroke="#222" stroke-width="0.4"/>
<line x1="341.4" x2="341.4" y1="384.0" y2="385.3" stroke="#222" stroke-width="0.4"/>
<line x1="346.9" x2="346.9" y1="384.0" y2="385.3" stroke="#222" stroke-width="0.4"/>
<line x1="351.1" x2="351.1" y1="384.0" y2="385.3" stroke="#222" stroke-width="0.4"/>
<line x1="354.6" x2="354.6" y1="384.0" y2="385.3" stroke="#222" stroke-width="0.4"/>
<line x1="357.5" x2="357.5" y1="384.0" y2="385.3" stroke="#222" stroke-width="0.4"/>
<line x1="360.0" x2="360.0" y1="384.0" y2="385.3" stroke="#222" stroke-width="0.4"/>
<line x1="362.3" x2="362.3" y1="384.0" y2="385.3" stroke="#222" stroke-width="0.4"/>
<line x1="377.4" x2="377.4" y1="384.0" y2="385.3" stroke="#222" stroke-width="0.4"/>
<line x1="385.1" x2="385.1" y1="384.0" y2="385.3" stroke="#222" stroke-width="0.4"/>
<line x1="390.6" x2="390.6" y1="384.0" y2="385.3" stroke="#222" stroke-width="0.4"/>
<line x1="394.8" x2="394.8" y1="384.0" y2="385.3" stroke="#222" stroke-width="0.4"/>
<line x1="398.3" x2="398.3" y1="384.0" y2="385.3" stroke="#222" stroke-width="0.4"/>
<line x1="401.2" x2="401.2" y1="384.0" y2="385.3" stroke="#222" stroke-width="0.4"/>
<line x1="403.7" x2="403.7" y1="384.0" y2="385.3" stroke="#222" stroke-width="0.4"/>
<line x1="405.9" x2="405.9" y1="384.0" y2="385.3" stroke="#222" stroke-width="0.4"/>
<line x1="421.1" x2="421.1" y1="384.0" y2="385.3" stroke="#222" stroke-width="0.4"/>
<line x1="428.8" x2="428.8" y1="384.0" y2="385.3" stroke="#222" stroke-width="0.4"/>
<line x1="434.2" x2="434.2" y1="384.0" y2="385.3" stroke="#222" stroke-width="0.4"/>
<line x1="438.5" x2="438.5" y1="384.0" y2="385.3" stroke="#222" stroke-width="0.4"/>
<line x1="441.9" x2="441.9" y1="384.0" y2="385.3" stroke="#222" stroke-width="0.4"/>
<line x1="444.9" x2="444.9" y1="384.0" y2="385.3" stroke="#222" stroke-width="0.4"/>
<line x1="447.4" x2="447.4" y1="384.0" y2="385.3" stroke="#222" stroke-width="0.4"/>
<line x1="449.6" x2="449.6" y1="384.0" y2="385.3" stroke="#222" stroke-width="0.4"/>
<line x1="464.8" x2="464.8" y1="384.0" y2="385.3" stroke="#222" stroke-width="0.4"/>
<line x1="472.5" x2="472.5" y1="384.0" y2="385.3" stroke="#222" stroke-width="0.4"/>
<line x1="477.9" x2="477.9" y1="384.0" y2="385.3" stroke="#222" stroke-width="0.4"/>
<line x1="482.2" x2="482.2" y1="384.0" y2="385.3" stroke="#222" stroke-width="0.4"/>
<line x1="485.6" x2="485.6" y1="384.0" y2="385.3" stroke="#222" stroke-width="0.4"/>
<line x1="488.6" x2="488.6" y1="384.0" y2="385.3" stroke="#222" stroke-width="0.4"/>
<line x1="491.1" x2="491.1" y1="384.0" y2="385.3" stroke="#222" stroke-width="0.4"/>
<line x1="493.3" x2="493.3" y1="384.0" y2="385.3" stroke="#222" stroke-width="0.4"/>
<text x="407.7" y="402.9" font-size="6.5" text-anchor="middle"><tspan font-style="italic">β</tspan> (rad)</text>
<text transform="translate(296.8,297.2) rotate(-90)" font-size="6.5" text-anchor="middle"><tspan font-style="italic">f</tspan><tspan font-style="italic" font-size="4.6" dy="1.3">mod</tspan><tspan dy="-1.3"> (GHz)</tspan></text>
<rect x="511.7" y="366.64" width="9.30" height="17.66" fill="#471365"/>
<rect x="511.7" y="349.28" width="9.30" height="17.66" fill="#463480"/>
<rect x="511.7" y="331.92" width="9.30" height="17.66" fill="#3b528b"/>
<rect x="511.7" y="314.56" width="9.30" height="17.66" fill="#2f6c8e"/>
<rect x="511.7" y="297.20" width="9.30" height="17.66" fill="#25848e"/>
<rect x="511.7" y="279.84" width="9.30" height="17.66" fill="#1e9c89"/>
<rect x="511.7" y="262.48" width="9.30" height="17.66" fill="#2fb47c"/>
<rect x="511.7" y="245.12" width="9.30" height="17.66" fill="#5ec962"/>
<rect x="511.7" y="227.76" width="9.30" height="17.66" fill="#9bd93c"/>
<rect x="511.7" y="210.40" width="9.30" height="17.66" fill="#dfe318"/>
<rect x="511.7" y="210.4" width="9.30" height="173.60" fill="none" stroke="#222" stroke-width="0.55"/>
<line x1="521.0" x2="523.3" y1="384.0" y2="384.0" stroke="#222" stroke-width="0.55"/>
<text x="525.2" y="386.6" font-size="6.5">0.0</text>
<line x1="521.0" x2="523.3" y1="349.3" y2="349.3" stroke="#222" stroke-width="0.55"/>
<text x="525.2" y="351.9" font-size="6.5">0.2</text>
<line x1="521.0" x2="523.3" y1="314.6" y2="314.6" stroke="#222" stroke-width="0.55"/>
<text x="525.2" y="317.2" font-size="6.5">0.4</text>
<line x1="521.0" x2="523.3" y1="279.8" y2="279.8" stroke="#222" stroke-width="0.55"/>
<text x="525.2" y="282.4" font-size="6.5">0.6</text>
<line x1="521.0" x2="523.3" y1="245.1" y2="245.1" stroke="#222" stroke-width="0.55"/>
<text x="525.2" y="247.7" font-size="6.5">0.8</text>
<line x1="521.0" x2="523.3" y1="210.4" y2="210.4" stroke="#222" stroke-width="0.55"/>
<text x="525.2" y="213.0" font-size="6.5">1.0</text>
<text transform="translate(542.6,298.7) rotate(-90)" font-size="6.5" text-anchor="middle">OMA [mW]</text>
<text x="281.9" y="220.7" font-size="14.7" letter-spacing="0.4" font-family='"Liberation Serif","DejaVu Serif",serif' class="s">(<tspan font-size="15.8">d</tspan>)</text>
<text x="429.4" y="223.0" font-size="14.5" textLength="63.5" lengthAdjust="spacingAndGlyphs" font-family='"Liberation Serif","DejaVu Serif",serif' class="s">100 GBd/s</text>
</svg>
</body></html>
